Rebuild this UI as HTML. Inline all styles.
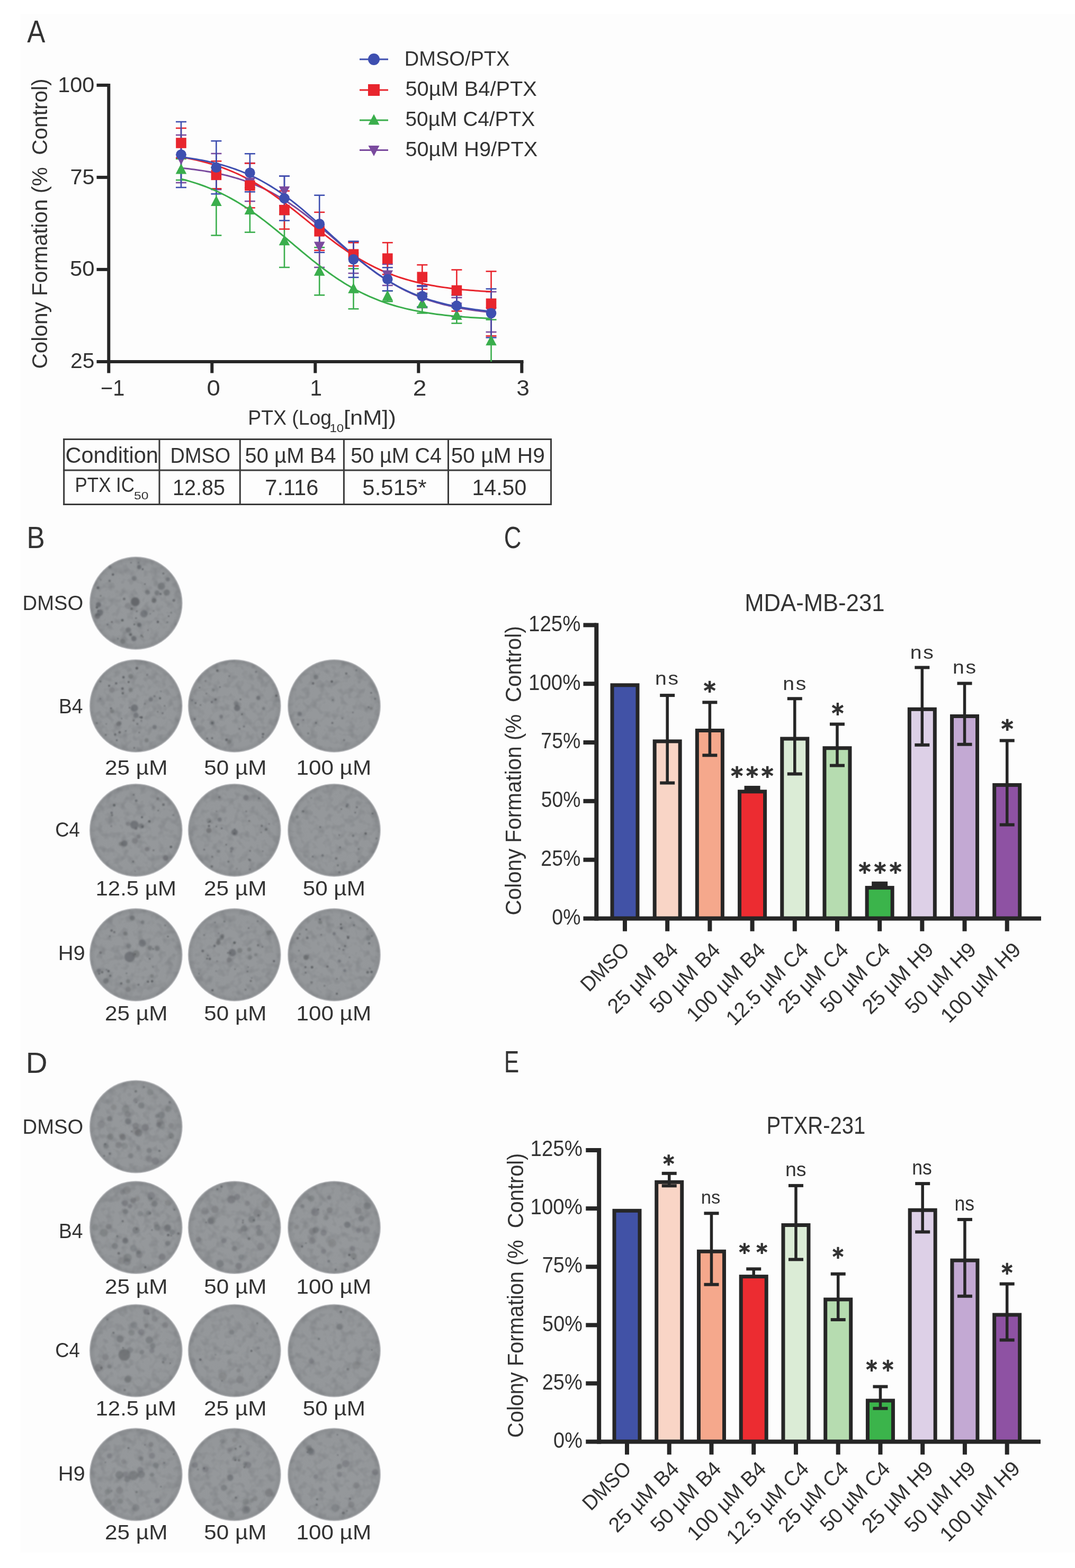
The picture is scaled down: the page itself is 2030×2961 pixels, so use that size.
<!DOCTYPE html>
<html><head><meta charset="utf-8"><title>Colony formation figure</title>
<style>
html,body{margin:0;padding:0;background:#fff;}
svg{display:block;}
text{font-family:'Liberation Sans', Arial, sans-serif;white-space:pre;}
</style></head>
<body>
<svg width="2030" height="2961" viewBox="0 0 2030 2961">
<defs>
<filter id="blur1" x="-50%" y="-50%" width="200%" height="200%"><feGaussianBlur stdDeviation="0.9"/></filter>
<filter id="blur2" x="-50%" y="-50%" width="200%" height="200%"><feGaussianBlur stdDeviation="1.8"/></filter>
<filter id="mottle" x="0" y="0" width="100%" height="100%" color-interpolation-filters="sRGB">
<feTurbulence type="fractalNoise" baseFrequency="0.07" numOctaves="2" seed="7" result="n"/>
<feColorMatrix in="n" type="matrix" values="0 0 0 0 0.33  0 0 0 0 0.34  0 0 0 0 0.36  0.6 0 0 0 -0.28" result="m"/>
<feComposite in="m" in2="SourceGraphic" operator="in"/>
</filter>
</defs>
<rect x="0" y="0" width="2030" height="2961" fill="#ffffff"/>
<rect x="39" y="26" width="1991" height="2906" fill="#fdfdfd"/>
<text transform="translate(51.37,80.00) scale(0.8580,1)" font-size="59.64" fill="#333333">A</text>
<text transform="translate(50.57,1034.60) scale(0.8991,1)" font-size="57.02" fill="#333333">B</text>
<text transform="translate(951.63,1034.60) scale(0.7954,1)" font-size="57.02" fill="#333333">C</text>
<text transform="translate(48.84,2026.00) scale(1.0096,1)" font-size="56.00" fill="#333333">D</text>
<text transform="translate(951.92,2024.90) scale(0.7273,1)" font-size="58.04" fill="#333333">E</text>
<line x1="205.30" y1="158.00" x2="205.30" y2="704.50" stroke="#262626" stroke-width="6" stroke-linecap="butt"/>
<line x1="182.50" y1="682.90" x2="988.50" y2="682.90" stroke="#262626" stroke-width="6" stroke-linecap="butt"/>
<line x1="182.50" y1="160.90" x2="205.30" y2="160.90" stroke="#262626" stroke-width="6" stroke-linecap="butt"/>
<line x1="182.50" y1="334.90" x2="205.30" y2="334.90" stroke="#262626" stroke-width="6" stroke-linecap="butt"/>
<line x1="182.50" y1="508.90" x2="205.30" y2="508.90" stroke="#262626" stroke-width="6" stroke-linecap="butt"/>
<line x1="400.30" y1="682.90" x2="400.30" y2="704.50" stroke="#262626" stroke-width="6" stroke-linecap="butt"/>
<line x1="595.30" y1="682.90" x2="595.30" y2="704.50" stroke="#262626" stroke-width="6" stroke-linecap="butt"/>
<line x1="790.30" y1="682.90" x2="790.30" y2="704.50" stroke="#262626" stroke-width="6" stroke-linecap="butt"/>
<line x1="985.30" y1="682.90" x2="985.30" y2="704.50" stroke="#262626" stroke-width="6" stroke-linecap="butt"/>
<text transform="translate(109.29,173.70) scale(1.0061,1)" font-size="41.16" fill="#333333">100</text>
<text transform="translate(132.43,347.60) scale(1.0075,1)" font-size="41.16" fill="#333333">75</text>
<text transform="translate(131.92,521.30) scale(1.0188,1)" font-size="41.16" fill="#333333">50</text>
<text transform="translate(133.05,695.30) scale(0.9955,1)" font-size="41.16" fill="#333333">25</text>
<text transform="translate(190.01,747.20) scale(0.9569,1)" font-size="41.60" fill="#333333">−1</text>
<text transform="translate(390.57,747.20) scale(1.0975,1)" font-size="41.60" fill="#333333">0</text>
<text transform="translate(585.47,747.20) scale(0.9727,1)" font-size="41.60" fill="#333333">1</text>
<text transform="translate(779.69,747.20) scale(1.1095,1)" font-size="41.60" fill="#333333">2</text>
<text transform="translate(975.34,747.20) scale(1.0628,1)" font-size="41.60" fill="#333333">3</text>
<text transform="translate(468.21,801.80) scale(0.9630,1)" font-size="38.84" fill="#333333">PTX (Log</text>
<text transform="translate(622.39,816.10) scale(1.1074,1)" font-size="21.82" fill="#333333">10</text>
<text transform="translate(648.96,801.80) scale(1.1187,1)" font-size="38.84" fill="#333333">[nM])</text>
<text transform="translate(89.00,696.53) rotate(-90) scale(0.9793,1)" font-size="41.45" fill="#333333">Colony Formation (%  Control)</text>
<line x1="679.00" y1="112.00" x2="733.00" y2="112.00" stroke="#3e4fb0" stroke-width="3" stroke-linecap="butt"/>
<circle cx="706.00" cy="112.00" r="11.00" fill="#3e4fb0"/>
<text transform="translate(763.86,124.00) scale(0.9903,1)" font-size="38.40" fill="#333333">DMSO/PTX</text>
<line x1="679.00" y1="170.00" x2="733.00" y2="170.00" stroke="#e8252d" stroke-width="3" stroke-linecap="butt"/>
<rect x="695.00" y="159.00" width="22.00" height="22.00" fill="#e8252d"/>
<text transform="translate(765.41,180.50) scale(1.0362,1)" font-size="38.40" fill="#333333">50µM B4/PTX</text>
<line x1="679.00" y1="227.00" x2="733.00" y2="227.00" stroke="#3aae4c" stroke-width="3" stroke-linecap="butt"/>
<polygon points="706.00,215.50 716.50,235.62 695.50,235.62" fill="#3aae4c"/>
<text transform="translate(765.45,238.30) scale(1.0116,1)" font-size="38.40" fill="#333333">50µM C4/PTX</text>
<line x1="679.00" y1="283.50" x2="733.00" y2="283.50" stroke="#7a4a9e" stroke-width="3" stroke-linecap="butt"/>
<polygon points="706.00,295.00 716.50,274.88 695.50,274.88" fill="#7a4a9e"/>
<text transform="translate(765.41,294.90) scale(1.0325,1)" font-size="38.40" fill="#333333">50µM H9/PTX</text>
<line x1="342.00" y1="300.00" x2="342.00" y2="340.00" stroke="#3aae4c" stroke-width="2.6" stroke-linecap="butt"/>
<line x1="332.00" y1="300.00" x2="352.00" y2="300.00" stroke="#3aae4c" stroke-width="2.6" stroke-linecap="butt"/>
<line x1="332.00" y1="340.00" x2="352.00" y2="340.00" stroke="#3aae4c" stroke-width="2.6" stroke-linecap="butt"/>
<line x1="408.40" y1="316.50" x2="408.40" y2="444.50" stroke="#3aae4c" stroke-width="2.6" stroke-linecap="butt"/>
<line x1="398.40" y1="316.50" x2="418.40" y2="316.50" stroke="#3aae4c" stroke-width="2.6" stroke-linecap="butt"/>
<line x1="398.40" y1="444.50" x2="418.40" y2="444.50" stroke="#3aae4c" stroke-width="2.6" stroke-linecap="butt"/>
<line x1="471.90" y1="354.60" x2="471.90" y2="438.60" stroke="#3aae4c" stroke-width="2.6" stroke-linecap="butt"/>
<line x1="461.90" y1="354.60" x2="481.90" y2="354.60" stroke="#3aae4c" stroke-width="2.6" stroke-linecap="butt"/>
<line x1="461.90" y1="438.60" x2="481.90" y2="438.60" stroke="#3aae4c" stroke-width="2.6" stroke-linecap="butt"/>
<line x1="537.00" y1="404.90" x2="537.00" y2="504.90" stroke="#3aae4c" stroke-width="2.6" stroke-linecap="butt"/>
<line x1="527.00" y1="404.90" x2="547.00" y2="404.90" stroke="#3aae4c" stroke-width="2.6" stroke-linecap="butt"/>
<line x1="527.00" y1="504.90" x2="547.00" y2="504.90" stroke="#3aae4c" stroke-width="2.6" stroke-linecap="butt"/>
<line x1="603.20" y1="467.30" x2="603.20" y2="557.30" stroke="#3aae4c" stroke-width="2.6" stroke-linecap="butt"/>
<line x1="593.20" y1="467.30" x2="613.20" y2="467.30" stroke="#3aae4c" stroke-width="2.6" stroke-linecap="butt"/>
<line x1="593.20" y1="557.30" x2="613.20" y2="557.30" stroke="#3aae4c" stroke-width="2.6" stroke-linecap="butt"/>
<line x1="667.50" y1="507.30" x2="667.50" y2="583.30" stroke="#3aae4c" stroke-width="2.6" stroke-linecap="butt"/>
<line x1="657.50" y1="507.30" x2="677.50" y2="507.30" stroke="#3aae4c" stroke-width="2.6" stroke-linecap="butt"/>
<line x1="657.50" y1="583.30" x2="677.50" y2="583.30" stroke="#3aae4c" stroke-width="2.6" stroke-linecap="butt"/>
<line x1="731.80" y1="549.30" x2="731.80" y2="569.30" stroke="#3aae4c" stroke-width="2.6" stroke-linecap="butt"/>
<line x1="721.80" y1="549.30" x2="741.80" y2="549.30" stroke="#3aae4c" stroke-width="2.6" stroke-linecap="butt"/>
<line x1="721.80" y1="569.30" x2="741.80" y2="569.30" stroke="#3aae4c" stroke-width="2.6" stroke-linecap="butt"/>
<line x1="797.30" y1="555.40" x2="797.30" y2="591.40" stroke="#3aae4c" stroke-width="2.6" stroke-linecap="butt"/>
<line x1="787.30" y1="555.40" x2="807.30" y2="555.40" stroke="#3aae4c" stroke-width="2.6" stroke-linecap="butt"/>
<line x1="787.30" y1="591.40" x2="807.30" y2="591.40" stroke="#3aae4c" stroke-width="2.6" stroke-linecap="butt"/>
<line x1="862.40" y1="580.50" x2="862.40" y2="610.50" stroke="#3aae4c" stroke-width="2.6" stroke-linecap="butt"/>
<line x1="852.40" y1="580.50" x2="872.40" y2="580.50" stroke="#3aae4c" stroke-width="2.6" stroke-linecap="butt"/>
<line x1="852.40" y1="610.50" x2="872.40" y2="610.50" stroke="#3aae4c" stroke-width="2.6" stroke-linecap="butt"/>
<line x1="927.50" y1="603.70" x2="927.50" y2="682.90" stroke="#3aae4c" stroke-width="2.6" stroke-linecap="butt"/>
<line x1="917.50" y1="603.70" x2="937.50" y2="603.70" stroke="#3aae4c" stroke-width="2.6" stroke-linecap="butt"/>
<line x1="342.00" y1="255.00" x2="342.00" y2="345.00" stroke="#7a4a9e" stroke-width="2.6" stroke-linecap="butt"/>
<line x1="332.00" y1="255.00" x2="352.00" y2="255.00" stroke="#7a4a9e" stroke-width="2.6" stroke-linecap="butt"/>
<line x1="332.00" y1="345.00" x2="352.00" y2="345.00" stroke="#7a4a9e" stroke-width="2.6" stroke-linecap="butt"/>
<line x1="408.40" y1="290.00" x2="408.40" y2="358.00" stroke="#7a4a9e" stroke-width="2.6" stroke-linecap="butt"/>
<line x1="398.40" y1="290.00" x2="418.40" y2="290.00" stroke="#7a4a9e" stroke-width="2.6" stroke-linecap="butt"/>
<line x1="398.40" y1="358.00" x2="418.40" y2="358.00" stroke="#7a4a9e" stroke-width="2.6" stroke-linecap="butt"/>
<line x1="471.90" y1="308.00" x2="471.90" y2="380.00" stroke="#7a4a9e" stroke-width="2.6" stroke-linecap="butt"/>
<line x1="461.90" y1="308.00" x2="481.90" y2="308.00" stroke="#7a4a9e" stroke-width="2.6" stroke-linecap="butt"/>
<line x1="461.90" y1="380.00" x2="481.90" y2="380.00" stroke="#7a4a9e" stroke-width="2.6" stroke-linecap="butt"/>
<line x1="537.00" y1="332.40" x2="537.00" y2="388.40" stroke="#7a4a9e" stroke-width="2.6" stroke-linecap="butt"/>
<line x1="527.00" y1="332.40" x2="547.00" y2="332.40" stroke="#7a4a9e" stroke-width="2.6" stroke-linecap="butt"/>
<line x1="527.00" y1="388.40" x2="547.00" y2="388.40" stroke="#7a4a9e" stroke-width="2.6" stroke-linecap="butt"/>
<line x1="603.20" y1="424.90" x2="603.20" y2="504.90" stroke="#7a4a9e" stroke-width="2.6" stroke-linecap="butt"/>
<line x1="593.20" y1="424.90" x2="613.20" y2="424.90" stroke="#7a4a9e" stroke-width="2.6" stroke-linecap="butt"/>
<line x1="593.20" y1="504.90" x2="613.20" y2="504.90" stroke="#7a4a9e" stroke-width="2.6" stroke-linecap="butt"/>
<line x1="667.50" y1="456.00" x2="667.50" y2="516.00" stroke="#7a4a9e" stroke-width="2.6" stroke-linecap="butt"/>
<line x1="657.50" y1="456.00" x2="677.50" y2="456.00" stroke="#7a4a9e" stroke-width="2.6" stroke-linecap="butt"/>
<line x1="657.50" y1="516.00" x2="677.50" y2="516.00" stroke="#7a4a9e" stroke-width="2.6" stroke-linecap="butt"/>
<line x1="731.80" y1="499.00" x2="731.80" y2="539.00" stroke="#7a4a9e" stroke-width="2.6" stroke-linecap="butt"/>
<line x1="721.80" y1="499.00" x2="741.80" y2="499.00" stroke="#7a4a9e" stroke-width="2.6" stroke-linecap="butt"/>
<line x1="721.80" y1="539.00" x2="741.80" y2="539.00" stroke="#7a4a9e" stroke-width="2.6" stroke-linecap="butt"/>
<line x1="797.30" y1="541.00" x2="797.30" y2="581.00" stroke="#7a4a9e" stroke-width="2.6" stroke-linecap="butt"/>
<line x1="787.30" y1="541.00" x2="807.30" y2="541.00" stroke="#7a4a9e" stroke-width="2.6" stroke-linecap="butt"/>
<line x1="787.30" y1="581.00" x2="807.30" y2="581.00" stroke="#7a4a9e" stroke-width="2.6" stroke-linecap="butt"/>
<line x1="862.40" y1="562.00" x2="862.40" y2="598.00" stroke="#7a4a9e" stroke-width="2.6" stroke-linecap="butt"/>
<line x1="852.40" y1="562.00" x2="872.40" y2="562.00" stroke="#7a4a9e" stroke-width="2.6" stroke-linecap="butt"/>
<line x1="852.40" y1="598.00" x2="872.40" y2="598.00" stroke="#7a4a9e" stroke-width="2.6" stroke-linecap="butt"/>
<line x1="927.50" y1="551.00" x2="927.50" y2="627.00" stroke="#7a4a9e" stroke-width="2.6" stroke-linecap="butt"/>
<line x1="917.50" y1="551.00" x2="937.50" y2="551.00" stroke="#7a4a9e" stroke-width="2.6" stroke-linecap="butt"/>
<line x1="917.50" y1="627.00" x2="937.50" y2="627.00" stroke="#7a4a9e" stroke-width="2.6" stroke-linecap="butt"/>
<line x1="342.00" y1="242.00" x2="342.00" y2="298.00" stroke="#e8252d" stroke-width="2.6" stroke-linecap="butt"/>
<line x1="332.00" y1="242.00" x2="352.00" y2="242.00" stroke="#e8252d" stroke-width="2.6" stroke-linecap="butt"/>
<line x1="332.00" y1="298.00" x2="352.00" y2="298.00" stroke="#e8252d" stroke-width="2.6" stroke-linecap="butt"/>
<line x1="408.40" y1="304.30" x2="408.40" y2="356.30" stroke="#e8252d" stroke-width="2.6" stroke-linecap="butt"/>
<line x1="398.40" y1="304.30" x2="418.40" y2="304.30" stroke="#e8252d" stroke-width="2.6" stroke-linecap="butt"/>
<line x1="398.40" y1="356.30" x2="418.40" y2="356.30" stroke="#e8252d" stroke-width="2.6" stroke-linecap="butt"/>
<line x1="471.90" y1="308.40" x2="471.90" y2="392.40" stroke="#e8252d" stroke-width="2.6" stroke-linecap="butt"/>
<line x1="461.90" y1="308.40" x2="481.90" y2="308.40" stroke="#e8252d" stroke-width="2.6" stroke-linecap="butt"/>
<line x1="461.90" y1="392.40" x2="481.90" y2="392.40" stroke="#e8252d" stroke-width="2.6" stroke-linecap="butt"/>
<line x1="537.00" y1="360.60" x2="537.00" y2="432.60" stroke="#e8252d" stroke-width="2.6" stroke-linecap="butt"/>
<line x1="527.00" y1="360.60" x2="547.00" y2="360.60" stroke="#e8252d" stroke-width="2.6" stroke-linecap="butt"/>
<line x1="527.00" y1="432.60" x2="547.00" y2="432.60" stroke="#e8252d" stroke-width="2.6" stroke-linecap="butt"/>
<line x1="603.20" y1="400.80" x2="603.20" y2="472.80" stroke="#e8252d" stroke-width="2.6" stroke-linecap="butt"/>
<line x1="593.20" y1="400.80" x2="613.20" y2="400.80" stroke="#e8252d" stroke-width="2.6" stroke-linecap="butt"/>
<line x1="593.20" y1="472.80" x2="613.20" y2="472.80" stroke="#e8252d" stroke-width="2.6" stroke-linecap="butt"/>
<line x1="667.50" y1="458.20" x2="667.50" y2="502.20" stroke="#e8252d" stroke-width="2.6" stroke-linecap="butt"/>
<line x1="657.50" y1="458.20" x2="677.50" y2="458.20" stroke="#e8252d" stroke-width="2.6" stroke-linecap="butt"/>
<line x1="657.50" y1="502.20" x2="677.50" y2="502.20" stroke="#e8252d" stroke-width="2.6" stroke-linecap="butt"/>
<line x1="731.80" y1="458.20" x2="731.80" y2="518.20" stroke="#e8252d" stroke-width="2.6" stroke-linecap="butt"/>
<line x1="721.80" y1="458.20" x2="741.80" y2="458.20" stroke="#e8252d" stroke-width="2.6" stroke-linecap="butt"/>
<line x1="721.80" y1="518.20" x2="741.80" y2="518.20" stroke="#e8252d" stroke-width="2.6" stroke-linecap="butt"/>
<line x1="797.30" y1="500.20" x2="797.30" y2="546.20" stroke="#e8252d" stroke-width="2.6" stroke-linecap="butt"/>
<line x1="787.30" y1="500.20" x2="807.30" y2="500.20" stroke="#e8252d" stroke-width="2.6" stroke-linecap="butt"/>
<line x1="787.30" y1="546.20" x2="807.30" y2="546.20" stroke="#e8252d" stroke-width="2.6" stroke-linecap="butt"/>
<line x1="862.40" y1="509.50" x2="862.40" y2="587.50" stroke="#e8252d" stroke-width="2.6" stroke-linecap="butt"/>
<line x1="852.40" y1="509.50" x2="872.40" y2="509.50" stroke="#e8252d" stroke-width="2.6" stroke-linecap="butt"/>
<line x1="852.40" y1="587.50" x2="872.40" y2="587.50" stroke="#e8252d" stroke-width="2.6" stroke-linecap="butt"/>
<line x1="927.50" y1="512.40" x2="927.50" y2="634.40" stroke="#e8252d" stroke-width="2.6" stroke-linecap="butt"/>
<line x1="917.50" y1="512.40" x2="937.50" y2="512.40" stroke="#e8252d" stroke-width="2.6" stroke-linecap="butt"/>
<line x1="917.50" y1="634.40" x2="937.50" y2="634.40" stroke="#e8252d" stroke-width="2.6" stroke-linecap="butt"/>
<line x1="342.00" y1="230.00" x2="342.00" y2="354.00" stroke="#3e4fb0" stroke-width="2.6" stroke-linecap="butt"/>
<line x1="332.00" y1="230.00" x2="352.00" y2="230.00" stroke="#3e4fb0" stroke-width="2.6" stroke-linecap="butt"/>
<line x1="332.00" y1="354.00" x2="352.00" y2="354.00" stroke="#3e4fb0" stroke-width="2.6" stroke-linecap="butt"/>
<line x1="408.40" y1="266.20" x2="408.40" y2="366.20" stroke="#3e4fb0" stroke-width="2.6" stroke-linecap="butt"/>
<line x1="398.40" y1="266.20" x2="418.40" y2="266.20" stroke="#3e4fb0" stroke-width="2.6" stroke-linecap="butt"/>
<line x1="398.40" y1="366.20" x2="418.40" y2="366.20" stroke="#3e4fb0" stroke-width="2.6" stroke-linecap="butt"/>
<line x1="471.90" y1="290.30" x2="471.90" y2="362.30" stroke="#3e4fb0" stroke-width="2.6" stroke-linecap="butt"/>
<line x1="461.90" y1="290.30" x2="481.90" y2="290.30" stroke="#3e4fb0" stroke-width="2.6" stroke-linecap="butt"/>
<line x1="461.90" y1="362.30" x2="481.90" y2="362.30" stroke="#3e4fb0" stroke-width="2.6" stroke-linecap="butt"/>
<line x1="537.00" y1="332.50" x2="537.00" y2="416.50" stroke="#3e4fb0" stroke-width="2.6" stroke-linecap="butt"/>
<line x1="527.00" y1="332.50" x2="547.00" y2="332.50" stroke="#3e4fb0" stroke-width="2.6" stroke-linecap="butt"/>
<line x1="527.00" y1="416.50" x2="547.00" y2="416.50" stroke="#3e4fb0" stroke-width="2.6" stroke-linecap="butt"/>
<line x1="603.20" y1="368.70" x2="603.20" y2="476.70" stroke="#3e4fb0" stroke-width="2.6" stroke-linecap="butt"/>
<line x1="593.20" y1="368.70" x2="613.20" y2="368.70" stroke="#3e4fb0" stroke-width="2.6" stroke-linecap="butt"/>
<line x1="593.20" y1="476.70" x2="613.20" y2="476.70" stroke="#3e4fb0" stroke-width="2.6" stroke-linecap="butt"/>
<line x1="667.50" y1="455.80" x2="667.50" y2="523.80" stroke="#3e4fb0" stroke-width="2.6" stroke-linecap="butt"/>
<line x1="657.50" y1="455.80" x2="677.50" y2="455.80" stroke="#3e4fb0" stroke-width="2.6" stroke-linecap="butt"/>
<line x1="657.50" y1="523.80" x2="677.50" y2="523.80" stroke="#3e4fb0" stroke-width="2.6" stroke-linecap="butt"/>
<line x1="731.80" y1="505.20" x2="731.80" y2="549.20" stroke="#3e4fb0" stroke-width="2.6" stroke-linecap="butt"/>
<line x1="721.80" y1="505.20" x2="741.80" y2="505.20" stroke="#3e4fb0" stroke-width="2.6" stroke-linecap="butt"/>
<line x1="721.80" y1="549.20" x2="741.80" y2="549.20" stroke="#3e4fb0" stroke-width="2.6" stroke-linecap="butt"/>
<line x1="797.30" y1="539.30" x2="797.30" y2="579.30" stroke="#3e4fb0" stroke-width="2.6" stroke-linecap="butt"/>
<line x1="787.30" y1="539.30" x2="807.30" y2="539.30" stroke="#3e4fb0" stroke-width="2.6" stroke-linecap="butt"/>
<line x1="787.30" y1="579.30" x2="807.30" y2="579.30" stroke="#3e4fb0" stroke-width="2.6" stroke-linecap="butt"/>
<line x1="862.40" y1="557.40" x2="862.40" y2="597.40" stroke="#3e4fb0" stroke-width="2.6" stroke-linecap="butt"/>
<line x1="852.40" y1="557.40" x2="872.40" y2="557.40" stroke="#3e4fb0" stroke-width="2.6" stroke-linecap="butt"/>
<line x1="852.40" y1="597.40" x2="872.40" y2="597.40" stroke="#3e4fb0" stroke-width="2.6" stroke-linecap="butt"/>
<line x1="927.50" y1="545.50" x2="927.50" y2="637.50" stroke="#3e4fb0" stroke-width="2.6" stroke-linecap="butt"/>
<line x1="917.50" y1="545.50" x2="937.50" y2="545.50" stroke="#3e4fb0" stroke-width="2.6" stroke-linecap="butt"/>
<line x1="917.50" y1="637.50" x2="937.50" y2="637.50" stroke="#3e4fb0" stroke-width="2.6" stroke-linecap="butt"/>
<polyline points="342.00,337.97 346.88,339.22 351.76,340.52 356.64,341.89 361.52,343.32 366.40,344.82 371.27,346.39 376.15,348.03 381.03,349.74 385.91,351.53 390.79,353.39 395.67,355.33 400.55,357.36 405.43,359.46 410.31,361.65 415.19,363.93 420.07,366.29 424.95,368.74 429.82,371.28 434.70,373.90 439.58,376.62 444.46,379.42 449.34,382.32 454.22,385.30 459.10,388.38 463.98,391.54 468.86,394.78 473.74,398.11 478.62,401.51 483.50,405.00 488.38,408.56 493.25,412.20 498.13,415.90 503.01,419.67 507.89,423.49 512.77,427.37 517.65,431.30 522.53,435.27 527.41,439.29 532.29,443.33 537.17,447.40 542.05,451.49 546.92,455.59 551.80,459.70 556.68,463.81 561.56,467.92 566.44,472.01 571.32,476.08 576.20,480.13 581.08,484.14 585.96,488.12 590.84,492.05 595.72,495.93 600.60,499.76 605.48,503.53 610.35,507.24 615.23,510.88 620.11,514.45 624.99,517.94 629.87,521.36 634.75,524.69 639.63,527.94 644.51,531.11 649.39,534.19 654.27,537.18 659.15,540.08 664.02,542.89 668.90,545.62 673.78,548.25 678.66,550.80 683.54,553.25 688.42,555.62 693.30,557.90 698.18,560.10 703.06,562.21 707.94,564.24 712.82,566.19 717.70,568.06 722.58,569.85 727.45,571.57 732.33,573.22 737.21,574.79 742.09,576.29 746.97,577.73 751.85,579.11 756.73,580.42 761.61,581.67 766.49,582.86 771.37,584.00 776.25,585.08 781.12,586.11 786.00,587.09 790.88,588.03 795.76,588.92 800.64,589.76 805.52,590.57 810.40,591.33 815.28,592.06 820.16,592.75 825.04,593.40 829.92,594.02 834.80,594.61 839.67,595.17 844.55,595.70 849.43,596.21 854.31,596.68 859.19,597.14 864.07,597.57 868.95,597.97 873.83,598.36 878.71,598.72 883.59,599.07 888.47,599.40 893.35,599.71 898.23,600.00 903.10,600.28 907.98,600.54 912.86,600.79 917.74,601.03 922.62,601.25 927.50,601.46" fill="none" stroke="#3aae4c" stroke-width="3"/>
<polyline points="342.00,317.30 346.88,317.79 351.76,318.31 356.64,318.86 361.52,319.44 366.40,320.06 371.27,320.70 376.15,321.39 381.03,322.11 385.91,322.87 390.79,323.67 395.67,324.52 400.55,325.41 405.43,326.35 410.31,327.33 415.19,328.37 420.07,329.47 424.95,330.62 429.82,331.82 434.70,333.09 439.58,334.43 444.46,335.82 449.34,337.29 454.22,338.83 459.10,340.44 463.98,342.12 468.86,343.89 473.74,345.73 478.62,347.65 483.50,349.66 488.38,351.76 493.25,353.94 498.13,356.22 503.01,358.58 507.89,361.04 512.77,363.59 517.65,366.24 522.53,368.98 527.41,371.81 532.29,374.75 537.17,377.77 542.05,380.89 546.92,384.11 551.80,387.41 556.68,390.81 561.56,394.29 566.44,397.85 571.32,401.50 576.20,405.23 581.08,409.02 585.96,412.89 590.84,416.82 595.72,420.81 600.60,424.86 605.48,428.95 610.35,433.08 615.23,437.24 620.11,441.44 624.99,445.65 629.87,449.88 634.75,454.11 639.63,458.34 644.51,462.56 649.39,466.77 654.27,470.96 659.15,475.11 664.02,479.23 668.90,483.31 673.78,487.33 678.66,491.31 683.54,495.22 688.42,499.07 693.30,502.84 698.18,506.54 703.06,510.17 707.94,513.71 712.82,517.16 717.70,520.53 722.58,523.81 727.45,526.99 732.33,530.08 737.21,533.08 742.09,535.98 746.97,538.79 751.85,541.50 756.73,544.12 761.61,546.64 766.49,549.07 771.37,551.41 776.25,553.65 781.12,555.81 786.00,557.88 790.88,559.86 795.76,561.76 800.64,563.58 805.52,565.32 810.40,566.98 815.28,568.57 820.16,570.08 825.04,571.53 829.92,572.91 834.80,574.22 839.67,575.47 844.55,576.66 849.43,577.79 854.31,578.87 859.19,579.89 864.07,580.86 868.95,581.79 873.83,582.66 878.71,583.49 883.59,584.28 888.47,585.03 893.35,585.74 898.23,586.41 903.10,587.05 907.98,587.66 912.86,588.23 917.74,588.77 922.62,589.28 927.50,589.77" fill="none" stroke="#7a4a9e" stroke-width="3"/>
<polyline points="342.00,296.58 346.88,297.43 351.76,298.32 356.64,299.26 361.52,300.25 366.40,301.29 371.27,302.38 376.15,303.53 381.03,304.73 385.91,305.99 390.79,307.32 395.67,308.70 400.55,310.15 405.43,311.67 410.31,313.26 415.19,314.92 420.07,316.66 424.95,318.47 429.82,320.35 434.70,322.32 439.58,324.37 444.46,326.50 449.34,328.71 454.22,331.01 459.10,333.39 463.98,335.87 468.86,338.42 473.74,341.07 478.62,343.80 483.50,346.62 488.38,349.53 493.25,352.52 498.13,355.60 503.01,358.76 507.89,361.99 512.77,365.31 517.65,368.70 522.53,372.16 527.41,375.69 532.29,379.28 537.17,382.94 542.05,386.65 546.92,390.40 551.80,394.20 556.68,398.05 561.56,401.92 566.44,405.82 571.32,409.74 576.20,413.67 581.08,417.62 585.96,421.56 590.84,425.50 595.72,429.43 600.60,433.34 605.48,437.22 610.35,441.07 615.23,444.89 620.11,448.67 624.99,452.39 629.87,456.07 634.75,459.68 639.63,463.24 644.51,466.73 649.39,470.14 654.27,473.49 659.15,476.76 664.02,479.94 668.90,483.05 673.78,486.07 678.66,489.01 683.54,491.87 688.42,494.63 693.30,497.31 698.18,499.90 703.06,502.41 707.94,504.82 712.82,507.16 717.70,509.40 722.58,511.56 727.45,513.64 732.33,515.64 737.21,517.56 742.09,519.39 746.97,521.16 751.85,522.84 756.73,524.46 761.61,526.01 766.49,527.48 771.37,528.89 776.25,530.24 781.12,531.52 786.00,532.75 790.88,533.92 795.76,535.03 800.64,536.09 805.52,537.10 810.40,538.05 815.28,538.97 820.16,539.83 825.04,540.66 829.92,541.44 834.80,542.18 839.67,542.89 844.55,543.56 849.43,544.19 854.31,544.79 859.19,545.37 864.07,545.91 868.95,546.42 873.83,546.91 878.71,547.37 883.59,547.80 888.47,548.22 893.35,548.61 898.23,548.98 903.10,549.33 907.98,549.66 912.86,549.98 917.74,550.27 922.62,550.56 927.50,550.82" fill="none" stroke="#e8252d" stroke-width="3"/>
<polyline points="342.00,296.50 346.88,297.13 351.76,297.79 356.64,298.49 361.52,299.22 366.40,300.00 371.27,300.82 376.15,301.68 381.03,302.59 385.91,303.54 390.79,304.54 395.67,305.60 400.55,306.71 405.43,307.88 410.31,309.10 415.19,310.39 420.07,311.74 424.95,313.16 429.82,314.64 434.70,316.20 439.58,317.83 444.46,319.54 449.34,321.32 454.22,323.19 459.10,325.14 463.98,327.17 468.86,329.29 473.74,331.50 478.62,333.81 483.50,336.20 488.38,338.69 493.25,341.28 498.13,343.96 503.01,346.75 507.89,349.63 512.77,352.61 517.65,355.68 522.53,358.86 527.41,362.14 532.29,365.51 537.17,368.98 542.05,372.54 546.92,376.19 551.80,379.93 556.68,383.76 561.56,387.67 566.44,391.65 571.32,395.71 576.20,399.84 581.08,404.03 585.96,408.28 590.84,412.58 595.72,416.92 600.60,421.31 605.48,425.72 610.35,430.16 615.23,434.62 620.11,439.09 624.99,443.56 629.87,448.03 634.75,452.48 639.63,456.92 644.51,461.33 649.39,465.70 654.27,470.04 659.15,474.33 664.02,478.56 668.90,482.74 673.78,486.85 678.66,490.90 683.54,494.87 688.42,498.76 693.30,502.56 698.18,506.28 703.06,509.92 707.94,513.46 712.82,516.90 717.70,520.25 722.58,523.51 727.45,526.66 732.33,529.72 737.21,532.68 742.09,535.53 746.97,538.29 751.85,540.96 756.73,543.52 761.61,545.99 766.49,548.36 771.37,550.65 776.25,552.84 781.12,554.94 786.00,556.95 790.88,558.88 795.76,560.73 800.64,562.50 805.52,564.19 810.40,565.80 815.28,567.34 820.16,568.81 825.04,570.21 829.92,571.55 834.80,572.82 839.67,574.03 844.55,575.19 849.43,576.29 854.31,577.33 859.19,578.32 864.07,579.27 868.95,580.16 873.83,581.01 878.71,581.82 883.59,582.59 888.47,583.31 893.35,584.00 898.23,584.66 903.10,585.28 907.98,585.87 912.86,586.42 917.74,586.95 922.62,587.45 927.50,587.93" fill="none" stroke="#3e4fb0" stroke-width="3"/>
<polygon points="342.00,308.73 352.29,328.45 331.71,328.45" fill="#3aae4c"/>
<polygon points="408.40,369.23 418.69,388.95 398.11,388.95" fill="#3aae4c"/>
<polygon points="471.90,385.33 482.19,405.05 461.61,405.05" fill="#3aae4c"/>
<polygon points="537.00,443.63 547.29,463.35 526.71,463.35" fill="#3aae4c"/>
<polygon points="603.20,501.03 613.49,520.75 592.91,520.75" fill="#3aae4c"/>
<polygon points="667.50,534.03 677.79,553.75 657.21,553.75" fill="#3aae4c"/>
<polygon points="731.80,548.03 742.09,567.75 721.51,567.75" fill="#3aae4c"/>
<polygon points="797.30,562.13 807.59,581.85 787.01,581.85" fill="#3aae4c"/>
<polygon points="862.40,584.23 872.69,603.95 852.11,603.95" fill="#3aae4c"/>
<polygon points="927.50,632.43 937.79,652.15 917.21,652.15" fill="#3aae4c"/>
<polygon points="342.00,311.27 352.29,291.55 331.71,291.55" fill="#7a4a9e"/>
<polygon points="408.40,335.27 418.69,315.55 398.11,315.55" fill="#7a4a9e"/>
<polygon points="471.90,355.27 482.19,335.55 461.61,335.55" fill="#7a4a9e"/>
<polygon points="537.00,371.67 547.29,351.95 526.71,351.95" fill="#7a4a9e"/>
<polygon points="603.20,476.17 613.49,456.45 592.91,456.45" fill="#7a4a9e"/>
<polygon points="667.50,497.27 677.79,477.55 657.21,477.55" fill="#7a4a9e"/>
<polygon points="731.80,530.27 742.09,510.55 721.51,510.55" fill="#7a4a9e"/>
<polygon points="797.30,572.27 807.59,552.55 787.01,552.55" fill="#7a4a9e"/>
<polygon points="862.40,591.27 872.69,571.55 852.11,571.55" fill="#7a4a9e"/>
<polygon points="927.50,600.27 937.79,580.55 917.21,580.55" fill="#7a4a9e"/>
<rect x="332.20" y="260.20" width="19.60" height="19.60" fill="#e8252d"/>
<rect x="398.60" y="320.50" width="19.60" height="19.60" fill="#e8252d"/>
<rect x="462.10" y="340.60" width="19.60" height="19.60" fill="#e8252d"/>
<rect x="527.20" y="386.80" width="19.60" height="19.60" fill="#e8252d"/>
<rect x="593.40" y="427.00" width="19.60" height="19.60" fill="#e8252d"/>
<rect x="657.70" y="470.40" width="19.60" height="19.60" fill="#e8252d"/>
<rect x="722.00" y="478.40" width="19.60" height="19.60" fill="#e8252d"/>
<rect x="787.50" y="513.40" width="19.60" height="19.60" fill="#e8252d"/>
<rect x="852.60" y="538.70" width="19.60" height="19.60" fill="#e8252d"/>
<rect x="917.70" y="563.60" width="19.60" height="19.60" fill="#e8252d"/>
<circle cx="342.00" cy="292.00" r="9.80" fill="#3e4fb0"/>
<circle cx="408.40" cy="316.20" r="9.80" fill="#3e4fb0"/>
<circle cx="471.90" cy="326.30" r="9.80" fill="#3e4fb0"/>
<circle cx="537.00" cy="374.50" r="9.80" fill="#3e4fb0"/>
<circle cx="603.20" cy="422.70" r="9.80" fill="#3e4fb0"/>
<circle cx="667.50" cy="489.80" r="9.80" fill="#3e4fb0"/>
<circle cx="731.80" cy="527.20" r="9.80" fill="#3e4fb0"/>
<circle cx="797.30" cy="559.30" r="9.80" fill="#3e4fb0"/>
<circle cx="862.40" cy="577.40" r="9.80" fill="#3e4fb0"/>
<circle cx="927.50" cy="591.50" r="9.80" fill="#3e4fb0"/>
<line x1="120.70" y1="828.00" x2="120.70" y2="954.00" stroke="#3a3a3a" stroke-width="3" stroke-linecap="butt"/>
<line x1="301.00" y1="828.00" x2="301.00" y2="954.00" stroke="#3a3a3a" stroke-width="3" stroke-linecap="butt"/>
<line x1="453.30" y1="828.00" x2="453.30" y2="954.00" stroke="#3a3a3a" stroke-width="3" stroke-linecap="butt"/>
<line x1="649.40" y1="828.00" x2="649.40" y2="954.00" stroke="#3a3a3a" stroke-width="3" stroke-linecap="butt"/>
<line x1="846.50" y1="828.00" x2="846.50" y2="954.00" stroke="#3a3a3a" stroke-width="3" stroke-linecap="butt"/>
<line x1="1040.50" y1="828.00" x2="1040.50" y2="954.00" stroke="#3a3a3a" stroke-width="3" stroke-linecap="butt"/>
<line x1="119.20" y1="829.50" x2="1042.00" y2="829.50" stroke="#3a3a3a" stroke-width="3" stroke-linecap="butt"/>
<line x1="119.20" y1="888.00" x2="1042.00" y2="888.00" stroke="#3a3a3a" stroke-width="3" stroke-linecap="butt"/>
<line x1="119.20" y1="952.50" x2="1042.00" y2="952.50" stroke="#3a3a3a" stroke-width="3" stroke-linecap="butt"/>
<text transform="translate(123.42,873.70) scale(0.9920,1)" font-size="41.89" fill="#333333">Condition</text>
<text transform="translate(321.58,873.70) scale(0.9469,1)" font-size="40.00" fill="#333333">DMSO</text>
<text transform="translate(462.50,873.70) scale(1.0006,1)" font-size="40.00" fill="#333333">50 µM B4</text>
<text transform="translate(662.22,873.70) scale(0.9866,1)" font-size="40.00" fill="#333333">50 µM C4</text>
<text transform="translate(851.77,873.70) scale(1.0164,1)" font-size="40.00" fill="#333333">50 µM H9</text>
<text transform="translate(141.62,928.80) scale(0.8947,1)" font-size="38.98" fill="#333333">PTX IC</text>
<text transform="translate(253.01,942.90) scale(1.2128,1)" font-size="20.36" fill="#333333">50</text>
<text transform="translate(326.03,935.00) scale(0.9393,1)" font-size="42.18" fill="#333333">12.85</text>
<text transform="translate(500.22,935.00) scale(0.9879,1)" font-size="42.18" fill="#333333">7.116</text>
<text transform="translate(684.32,935.00) scale(0.9951,1)" font-size="42.18" fill="#333333">5.515*</text>
<text transform="translate(891.52,935.00) scale(0.9731,1)" font-size="42.18" fill="#333333">14.50</text>
<defs>
<radialGradient id="dishg" cx="50%" cy="50%" r="50%">
<stop offset="0%" stop-color="#96999c"/>
<stop offset="88%" stop-color="#94979a"/>
<stop offset="97%" stop-color="#8c8f92"/>
<stop offset="100%" stop-color="#a3a5a8"/>
</radialGradient>
<radialGradient id="dishg2" cx="50%" cy="50%" r="50%">
<stop offset="0%" stop-color="#939699"/>
<stop offset="88%" stop-color="#919497"/>
<stop offset="97%" stop-color="#898c8f"/>
<stop offset="100%" stop-color="#a0a2a5"/>
</radialGradient>
</defs>
<circle cx="256.80" cy="1139.00" r="88.20" fill="#cbcccf"/>
<circle cx="256.80" cy="1139.00" r="87.00" fill="url(#dishg)"/>
<circle cx="256.80" cy="1139.00" r="86.00" fill="#000" filter="url(#mottle)"/>
<g filter="url(#blur1)"><circle cx="248.5" cy="1149.4" r="2.5" fill="#54575b" fill-opacity="0.64"/><circle cx="258.2" cy="1154.2" r="1.5" fill="#54575b" fill-opacity="0.65"/><circle cx="279.4" cy="1190.0" r="1.4" fill="#54575b" fill-opacity="0.57"/><circle cx="283.6" cy="1159.1" r="1.5" fill="#54575b" fill-opacity="0.46"/><circle cx="261.7" cy="1062.4" r="1.5" fill="#54575b" fill-opacity="0.55"/><circle cx="246.5" cy="1198.6" r="2.0" fill="#54575b" fill-opacity="0.71"/><circle cx="256.8" cy="1167.3" r="1.9" fill="#54575b" fill-opacity="0.56"/><circle cx="316.0" cy="1175.2" r="1.7" fill="#54575b" fill-opacity="0.54"/><circle cx="303.1" cy="1121.7" r="2.4" fill="#54575b" fill-opacity="0.60"/><circle cx="328.2" cy="1133.8" r="2.6" fill="#54575b" fill-opacity="0.61"/><circle cx="182.5" cy="1161.5" r="2.3" fill="#54575b" fill-opacity="0.56"/><circle cx="185.0" cy="1109.9" r="2.6" fill="#54575b" fill-opacity="0.75"/><circle cx="190.3" cy="1094.9" r="1.4" fill="#54575b" fill-opacity="0.47"/><circle cx="308.5" cy="1082.9" r="2.0" fill="#54575b" fill-opacity="0.63"/><circle cx="203.0" cy="1179.3" r="1.5" fill="#54575b" fill-opacity="0.71"/><circle cx="190.1" cy="1125.2" r="1.6" fill="#54575b" fill-opacity="0.56"/><circle cx="222.7" cy="1206.0" r="1.6" fill="#54575b" fill-opacity="0.61"/><circle cx="318.5" cy="1163.7" r="1.4" fill="#54575b" fill-opacity="0.85"/><circle cx="206.9" cy="1096.9" r="2.3" fill="#54575b" fill-opacity="0.58"/><circle cx="185.5" cy="1153.4" r="1.6" fill="#54575b" fill-opacity="0.69"/><circle cx="234.5" cy="1130.9" r="2.5" fill="#54575b" fill-opacity="0.64"/><circle cx="269.8" cy="1202.8" r="1.5" fill="#54575b" fill-opacity="0.51"/><circle cx="213.2" cy="1085.0" r="2.3" fill="#54575b" fill-opacity="0.83"/><circle cx="323.3" cy="1157.0" r="1.8" fill="#54575b" fill-opacity="0.49"/><circle cx="211.3" cy="1174.6" r="1.6" fill="#54575b" fill-opacity="0.78"/><circle cx="273.6" cy="1103.1" r="1.5" fill="#54575b" fill-opacity="0.74"/><circle cx="267.1" cy="1200.3" r="2.1" fill="#54575b" fill-opacity="0.56"/><circle cx="247.4" cy="1062.5" r="1.5" fill="#54575b" fill-opacity="0.60"/><circle cx="269.4" cy="1074.9" r="1.8" fill="#54575b" fill-opacity="0.81"/><circle cx="290.1" cy="1153.7" r="1.5" fill="#54575b" fill-opacity="0.46"/><circle cx="253.7" cy="1179.1" r="1.7" fill="#54575b" fill-opacity="0.85"/><circle cx="182.9" cy="1147.0" r="2.3" fill="#54575b" fill-opacity="0.81"/><circle cx="298.1" cy="1174.4" r="2.3" fill="#54575b" fill-opacity="0.82"/><circle cx="231.0" cy="1171.2" r="2.5" fill="#54575b" fill-opacity="0.80"/></g>
<g filter="url(#blur2)"><circle cx="242.4" cy="1189.6" r="5.2" fill="#54575b" fill-opacity="0.44"/><circle cx="278.5" cy="1118.5" r="4.5" fill="#54575b" fill-opacity="0.45"/><circle cx="183.8" cy="1163.3" r="5.5" fill="#54575b" fill-opacity="0.52"/><circle cx="296.5" cy="1119.6" r="4.8" fill="#54575b" fill-opacity="0.45"/><circle cx="246.5" cy="1197.9" r="3.2" fill="#54575b" fill-opacity="0.49"/><circle cx="253.5" cy="1092.1" r="4.7" fill="#54575b" fill-opacity="0.42"/><circle cx="255.3" cy="1136.5" r="8.5" fill="#54575b" fill-opacity="0.75"/><circle cx="185.8" cy="1142.0" r="5.0" fill="#54575b" fill-opacity="0.60"/><circle cx="188.8" cy="1157.0" r="6.0" fill="#54575b" fill-opacity="0.55"/><circle cx="290.8" cy="1134.0" r="4.5" fill="#54575b" fill-opacity="0.65"/><circle cx="271.8" cy="1159.0" r="7.0" fill="#54575b" fill-opacity="0.50"/><circle cx="252.8" cy="1206.0" r="5.0" fill="#54575b" fill-opacity="0.60"/><circle cx="262.8" cy="1180.0" r="4.0" fill="#54575b" fill-opacity="0.60"/><circle cx="304.8" cy="1107.0" r="7.0" fill="#54575b" fill-opacity="0.45"/><circle cx="314.8" cy="1119.0" r="6.0" fill="#54575b" fill-opacity="0.45"/><circle cx="262.8" cy="1071.0" r="4.0" fill="#54575b" fill-opacity="0.60"/><circle cx="207.8" cy="1071.0" r="3.0" fill="#54575b" fill-opacity="0.50"/><circle cx="231.8" cy="1211.0" r="5.0" fill="#54575b" fill-opacity="0.40"/><circle cx="316.8" cy="1094.0" r="4.0" fill="#54575b" fill-opacity="0.50"/><circle cx="241.8" cy="1144.0" r="6.0" fill="#54575b" fill-opacity="0.25"/></g>
<circle cx="256.80" cy="1333.00" r="88.20" fill="#cbcccf"/>
<circle cx="256.80" cy="1333.00" r="87.00" fill="url(#dishg)"/>
<circle cx="256.80" cy="1333.00" r="86.00" fill="#000" filter="url(#mottle)"/>
<g filter="url(#blur1)"><circle cx="252.4" cy="1360.4" r="2.2" fill="#54575b" fill-opacity="0.51"/><circle cx="217.5" cy="1387.0" r="2.2" fill="#54575b" fill-opacity="0.69"/><circle cx="266.9" cy="1361.1" r="1.5" fill="#54575b" fill-opacity="0.63"/><circle cx="182.8" cy="1365.5" r="1.7" fill="#54575b" fill-opacity="0.61"/><circle cx="258.4" cy="1261.8" r="2.6" fill="#54575b" fill-opacity="0.83"/><circle cx="189.4" cy="1319.6" r="1.5" fill="#54575b" fill-opacity="0.58"/><circle cx="277.9" cy="1274.5" r="2.2" fill="#54575b" fill-opacity="0.47"/><circle cx="199.6" cy="1387.9" r="1.8" fill="#54575b" fill-opacity="0.62"/><circle cx="273.5" cy="1329.0" r="1.8" fill="#54575b" fill-opacity="0.46"/><circle cx="231.8" cy="1309.2" r="2.2" fill="#54575b" fill-opacity="0.72"/><circle cx="189.6" cy="1286.9" r="1.8" fill="#54575b" fill-opacity="0.65"/><circle cx="310.8" cy="1333.0" r="1.3" fill="#54575b" fill-opacity="0.78"/><circle cx="244.6" cy="1336.3" r="1.6" fill="#54575b" fill-opacity="0.62"/><circle cx="237.4" cy="1380.3" r="1.4" fill="#54575b" fill-opacity="0.67"/><circle cx="200.8" cy="1367.1" r="1.3" fill="#54575b" fill-opacity="0.56"/><circle cx="229.7" cy="1356.8" r="1.4" fill="#54575b" fill-opacity="0.63"/><circle cx="206.1" cy="1295.0" r="1.9" fill="#54575b" fill-opacity="0.83"/><circle cx="253.5" cy="1412.3" r="1.5" fill="#54575b" fill-opacity="0.82"/><circle cx="233.2" cy="1278.9" r="2.3" fill="#54575b" fill-opacity="0.81"/><circle cx="303.9" cy="1305.5" r="1.6" fill="#54575b" fill-opacity="0.45"/><circle cx="225.9" cy="1383.0" r="2.4" fill="#54575b" fill-opacity="0.71"/><circle cx="209.7" cy="1337.7" r="1.9" fill="#54575b" fill-opacity="0.70"/><circle cx="220.5" cy="1397.9" r="1.7" fill="#54575b" fill-opacity="0.83"/><circle cx="259.4" cy="1367.1" r="2.2" fill="#54575b" fill-opacity="0.54"/><circle cx="219.4" cy="1290.4" r="2.2" fill="#54575b" fill-opacity="0.73"/><circle cx="242.9" cy="1288.0" r="1.9" fill="#54575b" fill-opacity="0.84"/><circle cx="267.2" cy="1354.7" r="2.5" fill="#54575b" fill-opacity="0.83"/><circle cx="302.1" cy="1318.7" r="2.1" fill="#54575b" fill-opacity="0.81"/><circle cx="307.1" cy="1346.9" r="1.8" fill="#54575b" fill-opacity="0.60"/><circle cx="297.8" cy="1344.0" r="1.3" fill="#54575b" fill-opacity="0.73"/><circle cx="262.9" cy="1383.3" r="1.8" fill="#54575b" fill-opacity="0.49"/><circle cx="231.3" cy="1300.3" r="2.5" fill="#54575b" fill-opacity="0.73"/><circle cx="264.0" cy="1354.2" r="1.5" fill="#54575b" fill-opacity="0.66"/><circle cx="291.7" cy="1314.6" r="1.6" fill="#54575b" fill-opacity="0.61"/></g>
<g filter="url(#blur2)"><circle cx="226.1" cy="1365.2" r="3.4" fill="#54575b" fill-opacity="0.32"/><circle cx="224.2" cy="1367.1" r="4.9" fill="#54575b" fill-opacity="0.46"/><circle cx="247.0" cy="1277.2" r="4.7" fill="#54575b" fill-opacity="0.39"/><circle cx="211.3" cy="1303.0" r="5.4" fill="#54575b" fill-opacity="0.30"/><circle cx="253.8" cy="1337.0" r="7.0" fill="#54575b" fill-opacity="0.55"/><circle cx="256.8" cy="1351.0" r="5.0" fill="#54575b" fill-opacity="0.50"/><circle cx="284.8" cy="1321.0" r="4.0" fill="#54575b" fill-opacity="0.50"/><circle cx="246.8" cy="1303.0" r="4.0" fill="#54575b" fill-opacity="0.40"/><circle cx="291.8" cy="1373.0" r="4.0" fill="#54575b" fill-opacity="0.50"/><circle cx="211.8" cy="1343.0" r="4.0" fill="#54575b" fill-opacity="0.40"/><circle cx="276.8" cy="1398.0" r="4.0" fill="#54575b" fill-opacity="0.40"/></g>
<circle cx="442.80" cy="1333.00" r="88.20" fill="#cbcccf"/>
<circle cx="442.80" cy="1333.00" r="87.00" fill="url(#dishg)"/>
<circle cx="442.80" cy="1333.00" r="86.00" fill="#000" filter="url(#mottle)"/>
<g filter="url(#blur1)"><circle cx="400.9" cy="1365.2" r="2.2" fill="#54575b" fill-opacity="0.79"/><circle cx="388.1" cy="1286.1" r="1.5" fill="#54575b" fill-opacity="0.54"/><circle cx="483.5" cy="1268.7" r="2.0" fill="#54575b" fill-opacity="0.54"/><circle cx="407.1" cy="1321.1" r="2.4" fill="#54575b" fill-opacity="0.69"/><circle cx="496.7" cy="1386.3" r="2.4" fill="#54575b" fill-opacity="0.75"/><circle cx="400.5" cy="1393.9" r="1.9" fill="#54575b" fill-opacity="0.75"/><circle cx="454.0" cy="1320.7" r="1.8" fill="#54575b" fill-opacity="0.62"/><circle cx="410.4" cy="1266.4" r="2.4" fill="#54575b" fill-opacity="0.77"/><circle cx="452.2" cy="1376.2" r="1.5" fill="#54575b" fill-opacity="0.72"/><circle cx="433.0" cy="1276.7" r="1.6" fill="#54575b" fill-opacity="0.66"/><circle cx="399.9" cy="1325.9" r="2.1" fill="#54575b" fill-opacity="0.61"/><circle cx="378.6" cy="1331.4" r="1.6" fill="#54575b" fill-opacity="0.54"/><circle cx="389.6" cy="1309.8" r="1.4" fill="#54575b" fill-opacity="0.71"/><circle cx="521.7" cy="1313.8" r="2.2" fill="#54575b" fill-opacity="0.82"/><circle cx="496.1" cy="1391.8" r="2.1" fill="#54575b" fill-opacity="0.51"/><circle cx="427.7" cy="1397.1" r="2.5" fill="#54575b" fill-opacity="0.77"/><circle cx="391.1" cy="1394.5" r="1.8" fill="#54575b" fill-opacity="0.74"/><circle cx="460.8" cy="1371.8" r="1.6" fill="#54575b" fill-opacity="0.70"/><circle cx="456.9" cy="1348.9" r="1.8" fill="#54575b" fill-opacity="0.74"/><circle cx="415.2" cy="1297.4" r="1.5" fill="#54575b" fill-opacity="0.72"/><circle cx="367.8" cy="1358.0" r="2.0" fill="#54575b" fill-opacity="0.67"/><circle cx="362.6" cy="1322.5" r="1.7" fill="#54575b" fill-opacity="0.49"/><circle cx="376.9" cy="1298.5" r="1.6" fill="#54575b" fill-opacity="0.69"/><circle cx="369.3" cy="1327.8" r="1.8" fill="#54575b" fill-opacity="0.78"/></g>
<g filter="url(#blur2)"><circle cx="445.7" cy="1328.5" r="4.7" fill="#54575b" fill-opacity="0.37"/><circle cx="400.7" cy="1365.0" r="5.1" fill="#54575b" fill-opacity="0.36"/><circle cx="447.8" cy="1337.0" r="6.0" fill="#54575b" fill-opacity="0.60"/><circle cx="487.8" cy="1318.0" r="4.0" fill="#54575b" fill-opacity="0.55"/><circle cx="417.8" cy="1353.0" r="3.5" fill="#54575b" fill-opacity="0.50"/><circle cx="432.8" cy="1401.0" r="4.0" fill="#54575b" fill-opacity="0.40"/><circle cx="497.8" cy="1338.0" r="3.0" fill="#54575b" fill-opacity="0.50"/><circle cx="402.8" cy="1303.0" r="3.0" fill="#54575b" fill-opacity="0.40"/></g>
<circle cx="631.00" cy="1333.00" r="88.20" fill="#cbcccf"/>
<circle cx="631.00" cy="1333.00" r="87.00" fill="url(#dishg)"/>
<circle cx="631.00" cy="1333.00" r="86.00" fill="#000" filter="url(#mottle)"/>
<g filter="url(#blur1)"><circle cx="562.6" cy="1368.2" r="2.1" fill="#54575b" fill-opacity="0.83"/><circle cx="591.2" cy="1290.5" r="2.3" fill="#54575b" fill-opacity="0.71"/><circle cx="596.7" cy="1365.1" r="1.8" fill="#54575b" fill-opacity="0.76"/><circle cx="700.9" cy="1308.3" r="1.6" fill="#54575b" fill-opacity="0.77"/><circle cx="653.9" cy="1272.0" r="2.0" fill="#54575b" fill-opacity="0.72"/><circle cx="572.7" cy="1359.4" r="1.5" fill="#54575b" fill-opacity="0.58"/><circle cx="649.7" cy="1397.8" r="2.2" fill="#54575b" fill-opacity="0.49"/><circle cx="646.5" cy="1356.3" r="1.5" fill="#54575b" fill-opacity="0.49"/><circle cx="696.2" cy="1335.4" r="1.6" fill="#54575b" fill-opacity="0.63"/><circle cx="582.0" cy="1384.9" r="2.0" fill="#54575b" fill-opacity="0.49"/><circle cx="672.8" cy="1265.8" r="2.0" fill="#54575b" fill-opacity="0.49"/><circle cx="627.6" cy="1365.3" r="2.0" fill="#54575b" fill-opacity="0.63"/><circle cx="628.4" cy="1322.0" r="2.1" fill="#54575b" fill-opacity="0.49"/><circle cx="626.6" cy="1287.1" r="2.4" fill="#54575b" fill-opacity="0.83"/><circle cx="666.4" cy="1345.4" r="1.3" fill="#54575b" fill-opacity="0.73"/><circle cx="708.2" cy="1319.6" r="1.8" fill="#54575b" fill-opacity="0.68"/></g>
<g filter="url(#blur2)"><circle cx="596.6" cy="1278.8" r="4.6" fill="#54575b" fill-opacity="0.42"/><circle cx="566.0" cy="1348.0" r="4.0" fill="#54575b" fill-opacity="0.50"/><circle cx="701.0" cy="1338.0" r="3.0" fill="#54575b" fill-opacity="0.40"/></g>
<circle cx="256.80" cy="1567.70" r="88.20" fill="#cbcccf"/>
<circle cx="256.80" cy="1567.70" r="87.00" fill="url(#dishg)"/>
<circle cx="256.80" cy="1567.70" r="86.00" fill="#000" filter="url(#mottle)"/>
<g filter="url(#blur1)"><circle cx="297.9" cy="1508.2" r="2.6" fill="#54575b" fill-opacity="0.46"/><circle cx="322.8" cy="1599.3" r="2.4" fill="#54575b" fill-opacity="0.85"/><circle cx="211.5" cy="1539.5" r="2.2" fill="#54575b" fill-opacity="0.56"/><circle cx="215.6" cy="1520.5" r="2.4" fill="#54575b" fill-opacity="0.80"/><circle cx="308.6" cy="1519.6" r="2.5" fill="#54575b" fill-opacity="0.65"/><circle cx="210.1" cy="1560.0" r="1.8" fill="#54575b" fill-opacity="0.48"/><circle cx="268.1" cy="1543.3" r="2.0" fill="#54575b" fill-opacity="0.82"/><circle cx="282.1" cy="1551.2" r="2.4" fill="#54575b" fill-opacity="0.85"/><circle cx="255.1" cy="1645.1" r="1.3" fill="#54575b" fill-opacity="0.51"/><circle cx="289.9" cy="1605.8" r="1.7" fill="#54575b" fill-opacity="0.65"/><circle cx="251.3" cy="1626.9" r="2.0" fill="#54575b" fill-opacity="0.61"/><circle cx="257.2" cy="1511.9" r="2.5" fill="#54575b" fill-opacity="0.59"/><circle cx="210.7" cy="1534.9" r="2.4" fill="#54575b" fill-opacity="0.58"/><circle cx="327.2" cy="1539.2" r="1.9" fill="#54575b" fill-opacity="0.48"/><circle cx="252.4" cy="1500.8" r="1.9" fill="#54575b" fill-opacity="0.60"/><circle cx="298.8" cy="1530.7" r="1.4" fill="#54575b" fill-opacity="0.81"/><circle cx="256.8" cy="1564.4" r="2.6" fill="#54575b" fill-opacity="0.47"/><circle cx="268.9" cy="1561.1" r="2.3" fill="#54575b" fill-opacity="0.69"/></g>
<g filter="url(#blur2)"><circle cx="290.3" cy="1525.2" r="3.2" fill="#54575b" fill-opacity="0.30"/><circle cx="227.8" cy="1593.5" r="3.9" fill="#54575b" fill-opacity="0.39"/><circle cx="277.4" cy="1603.4" r="4.5" fill="#54575b" fill-opacity="0.38"/><circle cx="312.8" cy="1620.0" r="5.2" fill="#54575b" fill-opacity="0.52"/><circle cx="253.8" cy="1557.7" r="8.0" fill="#54575b" fill-opacity="0.55"/><circle cx="266.8" cy="1559.7" r="5.0" fill="#54575b" fill-opacity="0.45"/><circle cx="234.8" cy="1592.7" r="6.0" fill="#54575b" fill-opacity="0.55"/><circle cx="254.8" cy="1587.7" r="6.0" fill="#54575b" fill-opacity="0.35"/><circle cx="241.8" cy="1555.7" r="4.0" fill="#54575b" fill-opacity="0.35"/><circle cx="261.8" cy="1579.7" r="4.0" fill="#54575b" fill-opacity="0.35"/></g>
<circle cx="442.80" cy="1567.70" r="88.20" fill="#cbcccf"/>
<circle cx="442.80" cy="1567.70" r="87.00" fill="url(#dishg)"/>
<circle cx="442.80" cy="1567.70" r="86.00" fill="#000" filter="url(#mottle)"/>
<g filter="url(#blur1)"><circle cx="418.7" cy="1564.3" r="1.8" fill="#54575b" fill-opacity="0.63"/><circle cx="427.1" cy="1595.1" r="1.6" fill="#54575b" fill-opacity="0.70"/><circle cx="414.1" cy="1505.4" r="2.3" fill="#54575b" fill-opacity="0.57"/><circle cx="399.9" cy="1636.2" r="2.3" fill="#54575b" fill-opacity="0.72"/><circle cx="464.9" cy="1532.2" r="1.6" fill="#54575b" fill-opacity="0.57"/><circle cx="400.7" cy="1617.8" r="1.8" fill="#54575b" fill-opacity="0.62"/><circle cx="493.3" cy="1571.8" r="1.6" fill="#54575b" fill-opacity="0.51"/><circle cx="408.7" cy="1560.9" r="1.4" fill="#54575b" fill-opacity="0.73"/><circle cx="502.4" cy="1566.2" r="2.5" fill="#54575b" fill-opacity="0.64"/><circle cx="494.3" cy="1559.7" r="2.1" fill="#54575b" fill-opacity="0.65"/><circle cx="396.2" cy="1551.4" r="1.8" fill="#54575b" fill-opacity="0.67"/><circle cx="470.5" cy="1550.3" r="1.7" fill="#54575b" fill-opacity="0.65"/><circle cx="469.8" cy="1622.9" r="1.6" fill="#54575b" fill-opacity="0.49"/><circle cx="489.0" cy="1507.4" r="2.1" fill="#54575b" fill-opacity="0.55"/><circle cx="447.2" cy="1640.6" r="1.4" fill="#54575b" fill-opacity="0.51"/><circle cx="436.6" cy="1607.8" r="1.9" fill="#54575b" fill-opacity="0.47"/><circle cx="471.9" cy="1641.6" r="2.0" fill="#54575b" fill-opacity="0.49"/><circle cx="393.4" cy="1553.1" r="1.4" fill="#54575b" fill-opacity="0.50"/><circle cx="431.3" cy="1627.0" r="1.6" fill="#54575b" fill-opacity="0.80"/><circle cx="508.2" cy="1556.0" r="1.6" fill="#54575b" fill-opacity="0.52"/><circle cx="471.9" cy="1624.4" r="2.4" fill="#54575b" fill-opacity="0.53"/><circle cx="408.8" cy="1532.0" r="1.5" fill="#54575b" fill-opacity="0.48"/><circle cx="442.6" cy="1573.7" r="1.9" fill="#54575b" fill-opacity="0.69"/><circle cx="443.2" cy="1566.0" r="1.4" fill="#54575b" fill-opacity="0.70"/><circle cx="472.2" cy="1606.7" r="1.7" fill="#54575b" fill-opacity="0.63"/><circle cx="496.1" cy="1607.4" r="1.4" fill="#54575b" fill-opacity="0.58"/><circle cx="385.6" cy="1604.4" r="1.8" fill="#54575b" fill-opacity="0.61"/><circle cx="394.6" cy="1559.7" r="2.2" fill="#54575b" fill-opacity="0.70"/></g>
<g filter="url(#blur2)"><circle cx="394.4" cy="1549.5" r="4.6" fill="#54575b" fill-opacity="0.31"/><circle cx="464.6" cy="1506.3" r="5.4" fill="#54575b" fill-opacity="0.47"/><circle cx="394.5" cy="1568.3" r="5.1" fill="#54575b" fill-opacity="0.51"/><circle cx="442.8" cy="1571.7" r="6.0" fill="#54575b" fill-opacity="0.60"/><circle cx="414.8" cy="1547.7" r="4.0" fill="#54575b" fill-opacity="0.50"/><circle cx="437.8" cy="1602.7" r="3.5" fill="#54575b" fill-opacity="0.50"/><circle cx="412.8" cy="1607.7" r="3.0" fill="#54575b" fill-opacity="0.45"/></g>
<circle cx="631.00" cy="1567.70" r="88.20" fill="#cbcccf"/>
<circle cx="631.00" cy="1567.70" r="87.00" fill="url(#dishg)"/>
<circle cx="631.00" cy="1567.70" r="86.00" fill="#000" filter="url(#mottle)"/>
<g filter="url(#blur1)"><circle cx="634.8" cy="1621.1" r="2.5" fill="#54575b" fill-opacity="0.57"/><circle cx="677.3" cy="1603.2" r="2.2" fill="#54575b" fill-opacity="0.49"/><circle cx="673.9" cy="1524.6" r="2.0" fill="#54575b" fill-opacity="0.58"/><circle cx="666.8" cy="1577.9" r="2.5" fill="#54575b" fill-opacity="0.53"/><circle cx="638.0" cy="1634.2" r="2.1" fill="#54575b" fill-opacity="0.57"/><circle cx="609.2" cy="1615.4" r="2.4" fill="#54575b" fill-opacity="0.55"/><circle cx="640.9" cy="1647.3" r="2.0" fill="#54575b" fill-opacity="0.59"/><circle cx="590.5" cy="1617.5" r="1.6" fill="#54575b" fill-opacity="0.69"/><circle cx="640.7" cy="1577.0" r="1.5" fill="#54575b" fill-opacity="0.71"/><circle cx="703.5" cy="1536.2" r="1.7" fill="#54575b" fill-opacity="0.81"/><circle cx="644.6" cy="1528.1" r="1.3" fill="#54575b" fill-opacity="0.75"/><circle cx="604.6" cy="1562.0" r="1.7" fill="#54575b" fill-opacity="0.70"/><circle cx="670.8" cy="1534.6" r="1.4" fill="#54575b" fill-opacity="0.84"/><circle cx="642.2" cy="1600.1" r="1.8" fill="#54575b" fill-opacity="0.74"/><circle cx="711.0" cy="1583.4" r="1.8" fill="#54575b" fill-opacity="0.53"/><circle cx="587.7" cy="1506.9" r="1.4" fill="#54575b" fill-opacity="0.53"/><circle cx="690.5" cy="1574.1" r="2.3" fill="#54575b" fill-opacity="0.82"/><circle cx="678.1" cy="1626.7" r="2.2" fill="#54575b" fill-opacity="0.61"/><circle cx="654.8" cy="1522.8" r="2.0" fill="#54575b" fill-opacity="0.56"/><circle cx="572.4" cy="1532.1" r="2.2" fill="#54575b" fill-opacity="0.64"/></g>
<g filter="url(#blur2)"><circle cx="656.0" cy="1519.7" r="3.0" fill="#54575b" fill-opacity="0.50"/><circle cx="561.0" cy="1542.7" r="3.0" fill="#54575b" fill-opacity="0.40"/></g>
<circle cx="256.80" cy="1803.00" r="88.20" fill="#cbcccf"/>
<circle cx="256.80" cy="1803.00" r="87.00" fill="url(#dishg)"/>
<circle cx="256.80" cy="1803.00" r="86.00" fill="#000" filter="url(#mottle)"/>
<g filter="url(#blur1)"><circle cx="201.3" cy="1831.1" r="1.7" fill="#54575b" fill-opacity="0.53"/><circle cx="255.0" cy="1802.0" r="1.9" fill="#54575b" fill-opacity="0.63"/><circle cx="215.8" cy="1760.2" r="2.2" fill="#54575b" fill-opacity="0.58"/><circle cx="287.2" cy="1853.0" r="2.4" fill="#54575b" fill-opacity="0.83"/><circle cx="210.6" cy="1757.3" r="2.3" fill="#54575b" fill-opacity="0.68"/><circle cx="204.9" cy="1833.9" r="2.4" fill="#54575b" fill-opacity="0.78"/><circle cx="207.4" cy="1768.0" r="1.3" fill="#54575b" fill-opacity="0.84"/><circle cx="208.2" cy="1842.5" r="2.0" fill="#54575b" fill-opacity="0.69"/><circle cx="261.5" cy="1859.6" r="2.1" fill="#54575b" fill-opacity="0.57"/><circle cx="189.8" cy="1799.1" r="2.5" fill="#54575b" fill-opacity="0.51"/><circle cx="288.8" cy="1825.8" r="1.5" fill="#54575b" fill-opacity="0.53"/><circle cx="289.2" cy="1792.0" r="1.8" fill="#54575b" fill-opacity="0.64"/><circle cx="187.4" cy="1838.6" r="2.1" fill="#54575b" fill-opacity="0.66"/><circle cx="228.9" cy="1857.2" r="2.4" fill="#54575b" fill-opacity="0.67"/><circle cx="282.6" cy="1810.6" r="1.6" fill="#54575b" fill-opacity="0.81"/><circle cx="279.4" cy="1853.8" r="2.4" fill="#54575b" fill-opacity="0.72"/><circle cx="192.9" cy="1835.9" r="2.4" fill="#54575b" fill-opacity="0.64"/><circle cx="312.0" cy="1747.6" r="1.8" fill="#54575b" fill-opacity="0.56"/><circle cx="238.9" cy="1838.1" r="1.5" fill="#54575b" fill-opacity="0.59"/><circle cx="317.0" cy="1768.4" r="1.5" fill="#54575b" fill-opacity="0.85"/></g>
<g filter="url(#blur2)"><circle cx="269.2" cy="1741.4" r="3.4" fill="#54575b" fill-opacity="0.48"/><circle cx="283.3" cy="1790.2" r="4.3" fill="#54575b" fill-opacity="0.44"/><circle cx="249.7" cy="1733.6" r="4.9" fill="#54575b" fill-opacity="0.49"/><circle cx="243.2" cy="1786.3" r="4.5" fill="#54575b" fill-opacity="0.42"/><circle cx="242.1" cy="1868.4" r="5.3" fill="#54575b" fill-opacity="0.34"/><circle cx="199.8" cy="1852.5" r="5.4" fill="#54575b" fill-opacity="0.48"/><circle cx="244.8" cy="1807.0" r="10.0" fill="#54575b" fill-opacity="0.55"/><circle cx="268.8" cy="1781.0" r="7.0" fill="#54575b" fill-opacity="0.50"/><circle cx="256.8" cy="1801.0" r="7.0" fill="#54575b" fill-opacity="0.40"/><circle cx="296.8" cy="1791.0" r="5.0" fill="#54575b" fill-opacity="0.45"/><circle cx="236.8" cy="1763.0" r="4.0" fill="#54575b" fill-opacity="0.40"/><circle cx="186.8" cy="1833.0" r="4.0" fill="#54575b" fill-opacity="0.50"/><circle cx="241.8" cy="1853.0" r="4.0" fill="#54575b" fill-opacity="0.40"/><circle cx="286.8" cy="1843.0" r="3.5" fill="#54575b" fill-opacity="0.40"/></g>
<circle cx="442.80" cy="1803.00" r="88.20" fill="#cbcccf"/>
<circle cx="442.80" cy="1803.00" r="87.00" fill="url(#dishg)"/>
<circle cx="442.80" cy="1803.00" r="86.00" fill="#000" filter="url(#mottle)"/>
<g filter="url(#blur1)"><circle cx="473.6" cy="1852.6" r="2.0" fill="#54575b" fill-opacity="0.65"/><circle cx="406.1" cy="1741.8" r="1.6" fill="#54575b" fill-opacity="0.55"/><circle cx="412.8" cy="1762.6" r="1.4" fill="#54575b" fill-opacity="0.58"/><circle cx="409.9" cy="1815.0" r="1.6" fill="#54575b" fill-opacity="0.48"/><circle cx="391.0" cy="1810.4" r="1.8" fill="#54575b" fill-opacity="0.74"/><circle cx="495.5" cy="1788.1" r="1.4" fill="#54575b" fill-opacity="0.74"/><circle cx="487.3" cy="1784.9" r="2.2" fill="#54575b" fill-opacity="0.57"/><circle cx="396.3" cy="1810.9" r="2.3" fill="#54575b" fill-opacity="0.77"/><circle cx="423.7" cy="1740.1" r="2.1" fill="#54575b" fill-opacity="0.49"/><circle cx="434.9" cy="1799.5" r="1.5" fill="#54575b" fill-opacity="0.64"/><circle cx="442.8" cy="1780.2" r="2.5" fill="#54575b" fill-opacity="0.80"/><circle cx="510.8" cy="1758.6" r="1.3" fill="#54575b" fill-opacity="0.60"/><circle cx="375.6" cy="1838.7" r="1.6" fill="#54575b" fill-opacity="0.50"/><circle cx="405.2" cy="1786.2" r="2.3" fill="#54575b" fill-opacity="0.63"/><circle cx="408.2" cy="1833.9" r="1.4" fill="#54575b" fill-opacity="0.53"/><circle cx="475.4" cy="1846.9" r="1.4" fill="#54575b" fill-opacity="0.48"/><circle cx="443.8" cy="1830.2" r="1.3" fill="#54575b" fill-opacity="0.62"/><circle cx="385.6" cy="1765.7" r="1.9" fill="#54575b" fill-opacity="0.49"/><circle cx="463.7" cy="1868.9" r="2.2" fill="#54575b" fill-opacity="0.48"/><circle cx="468.6" cy="1826.3" r="1.3" fill="#54575b" fill-opacity="0.60"/><circle cx="517.4" cy="1815.1" r="2.1" fill="#54575b" fill-opacity="0.83"/><circle cx="392.4" cy="1804.6" r="1.4" fill="#54575b" fill-opacity="0.76"/><circle cx="469.5" cy="1752.6" r="1.6" fill="#54575b" fill-opacity="0.66"/><circle cx="486.6" cy="1739.6" r="1.7" fill="#54575b" fill-opacity="0.66"/><circle cx="401.2" cy="1869.9" r="2.2" fill="#54575b" fill-opacity="0.83"/><circle cx="467.3" cy="1834.5" r="1.7" fill="#54575b" fill-opacity="0.65"/><circle cx="430.5" cy="1799.3" r="1.4" fill="#54575b" fill-opacity="0.79"/><circle cx="382.7" cy="1795.7" r="2.5" fill="#54575b" fill-opacity="0.66"/></g>
<g filter="url(#blur2)"><circle cx="506.9" cy="1761.3" r="4.2" fill="#54575b" fill-opacity="0.39"/><circle cx="412.2" cy="1780.3" r="4.1" fill="#54575b" fill-opacity="0.51"/><circle cx="472.0" cy="1808.0" r="4.0" fill="#54575b" fill-opacity="0.31"/><circle cx="418.8" cy="1771.2" r="3.9" fill="#54575b" fill-opacity="0.45"/><circle cx="419.7" cy="1767.5" r="3.7" fill="#54575b" fill-opacity="0.54"/><circle cx="438.8" cy="1799.0" r="7.0" fill="#54575b" fill-opacity="0.55"/><circle cx="452.8" cy="1795.0" r="5.0" fill="#54575b" fill-opacity="0.40"/><circle cx="432.8" cy="1813.0" r="5.0" fill="#54575b" fill-opacity="0.35"/><circle cx="412.8" cy="1775.0" r="3.5" fill="#54575b" fill-opacity="0.45"/><circle cx="470.8" cy="1793.0" r="4.0" fill="#54575b" fill-opacity="0.40"/><circle cx="482.8" cy="1803.0" r="3.0" fill="#54575b" fill-opacity="0.40"/></g>
<circle cx="631.00" cy="1803.00" r="88.20" fill="#cbcccf"/>
<circle cx="631.00" cy="1803.00" r="87.00" fill="url(#dishg)"/>
<circle cx="631.00" cy="1803.00" r="86.00" fill="#000" filter="url(#mottle)"/>
<g filter="url(#blur1)"><circle cx="701.6" cy="1835.4" r="2.3" fill="#54575b" fill-opacity="0.81"/><circle cx="589.2" cy="1826.6" r="2.5" fill="#54575b" fill-opacity="0.80"/><circle cx="643.7" cy="1745.5" r="1.8" fill="#54575b" fill-opacity="0.85"/><circle cx="562.0" cy="1771.5" r="2.5" fill="#54575b" fill-opacity="0.63"/><circle cx="580.3" cy="1771.1" r="2.5" fill="#54575b" fill-opacity="0.58"/><circle cx="618.4" cy="1825.2" r="2.3" fill="#54575b" fill-opacity="0.65"/><circle cx="558.2" cy="1815.7" r="1.3" fill="#54575b" fill-opacity="0.49"/><circle cx="577.1" cy="1836.7" r="1.7" fill="#54575b" fill-opacity="0.73"/><circle cx="693.5" cy="1754.2" r="1.6" fill="#54575b" fill-opacity="0.46"/><circle cx="656.2" cy="1768.3" r="1.5" fill="#54575b" fill-opacity="0.71"/><circle cx="648.4" cy="1793.8" r="1.5" fill="#54575b" fill-opacity="0.71"/><circle cx="640.7" cy="1791.3" r="1.5" fill="#54575b" fill-opacity="0.82"/><circle cx="694.2" cy="1836.0" r="2.6" fill="#54575b" fill-opacity="0.68"/><circle cx="604.0" cy="1736.2" r="2.1" fill="#54575b" fill-opacity="0.66"/><circle cx="657.4" cy="1770.9" r="2.2" fill="#54575b" fill-opacity="0.83"/><circle cx="636.3" cy="1848.7" r="1.4" fill="#54575b" fill-opacity="0.72"/><circle cx="564.5" cy="1795.2" r="1.7" fill="#54575b" fill-opacity="0.48"/><circle cx="659.2" cy="1768.4" r="1.4" fill="#54575b" fill-opacity="0.46"/><circle cx="582.2" cy="1804.2" r="1.3" fill="#54575b" fill-opacity="0.46"/><circle cx="660.0" cy="1807.7" r="1.5" fill="#54575b" fill-opacity="0.57"/><circle cx="565.9" cy="1763.9" r="1.8" fill="#54575b" fill-opacity="0.54"/><circle cx="578.4" cy="1755.4" r="1.7" fill="#54575b" fill-opacity="0.67"/><circle cx="698.2" cy="1828.7" r="1.9" fill="#54575b" fill-opacity="0.45"/><circle cx="576.8" cy="1826.4" r="1.8" fill="#54575b" fill-opacity="0.79"/><circle cx="702.1" cy="1767.6" r="1.8" fill="#54575b" fill-opacity="0.57"/><circle cx="661.7" cy="1733.2" r="1.7" fill="#54575b" fill-opacity="0.80"/><circle cx="612.9" cy="1861.6" r="1.9" fill="#54575b" fill-opacity="0.49"/><circle cx="644.5" cy="1752.8" r="2.5" fill="#54575b" fill-opacity="0.73"/><circle cx="636.1" cy="1876.5" r="2.0" fill="#54575b" fill-opacity="0.84"/><circle cx="668.4" cy="1747.1" r="1.7" fill="#54575b" fill-opacity="0.79"/><circle cx="651.6" cy="1786.7" r="2.1" fill="#54575b" fill-opacity="0.68"/><circle cx="606.6" cy="1765.2" r="1.4" fill="#54575b" fill-opacity="0.71"/><circle cx="697.2" cy="1781.4" r="2.4" fill="#54575b" fill-opacity="0.61"/><circle cx="588.3" cy="1855.3" r="2.5" fill="#54575b" fill-opacity="0.49"/></g>
<g filter="url(#blur2)"><circle cx="695.6" cy="1771.5" r="4.9" fill="#54575b" fill-opacity="0.37"/><circle cx="604.9" cy="1741.5" r="3.6" fill="#54575b" fill-opacity="0.43"/><circle cx="578.0" cy="1808.0" r="5.0" fill="#54575b" fill-opacity="0.65"/><circle cx="631.0" cy="1763.0" r="3.0" fill="#54575b" fill-opacity="0.50"/><circle cx="651.0" cy="1833.0" r="3.0" fill="#54575b" fill-opacity="0.50"/><circle cx="641.0" cy="1815.0" r="3.0" fill="#54575b" fill-opacity="0.50"/></g>
<circle cx="256.80" cy="2127.60" r="88.20" fill="#cbcccf"/>
<circle cx="256.80" cy="2127.60" r="87.00" fill="url(#dishg)"/>
<circle cx="256.80" cy="2127.60" r="86.00" fill="#000" filter="url(#mottle)"/>
<g filter="url(#blur1)"><circle cx="198.5" cy="2160.6" r="2.1" fill="#5a5d61" fill-opacity="0.64"/><circle cx="207.4" cy="2178.5" r="2.4" fill="#5a5d61" fill-opacity="0.65"/><circle cx="257.7" cy="2081.7" r="1.3" fill="#5a5d61" fill-opacity="0.60"/><circle cx="271.7" cy="2052.7" r="2.3" fill="#5a5d61" fill-opacity="0.54"/><circle cx="322.1" cy="2147.8" r="1.3" fill="#5a5d61" fill-opacity="0.58"/><circle cx="256.4" cy="2060.8" r="2.5" fill="#5a5d61" fill-opacity="0.60"/><circle cx="196.7" cy="2182.8" r="1.5" fill="#5a5d61" fill-opacity="0.82"/><circle cx="248.6" cy="2136.6" r="1.7" fill="#5a5d61" fill-opacity="0.64"/><circle cx="320.5" cy="2081.5" r="2.3" fill="#5a5d61" fill-opacity="0.53"/><circle cx="301.1" cy="2173.3" r="2.1" fill="#5a5d61" fill-opacity="0.74"/></g>
<g filter="url(#blur2)"><circle cx="191.1" cy="2123.5" r="7.3" fill="#5a5d61" fill-opacity="0.26"/><circle cx="241.1" cy="2104.1" r="5.8" fill="#5a5d61" fill-opacity="0.30"/><circle cx="256.1" cy="2126.1" r="6.2" fill="#5a5d61" fill-opacity="0.37"/><circle cx="208.4" cy="2146.5" r="6.2" fill="#5a5d61" fill-opacity="0.34"/><circle cx="230.1" cy="2144.5" r="5.2" fill="#5a5d61" fill-opacity="0.24"/><circle cx="305.0" cy="2105.8" r="6.7" fill="#5a5d61" fill-opacity="0.36"/><circle cx="323.5" cy="2126.0" r="5.5" fill="#5a5d61" fill-opacity="0.27"/><circle cx="304.5" cy="2124.7" r="7.3" fill="#5a5d61" fill-opacity="0.23"/><circle cx="214.7" cy="2091.0" r="5.7" fill="#5a5d61" fill-opacity="0.25"/><circle cx="299.6" cy="2123.9" r="5.0" fill="#5a5d61" fill-opacity="0.41"/><circle cx="261.3" cy="2167.4" r="4.1" fill="#5a5d61" fill-opacity="0.26"/><circle cx="323.2" cy="2145.2" r="5.7" fill="#5a5d61" fill-opacity="0.34"/><circle cx="317.6" cy="2094.2" r="6.1" fill="#5a5d61" fill-opacity="0.28"/><circle cx="281.8" cy="2188.8" r="6.3" fill="#5a5d61" fill-opacity="0.27"/><circle cx="283.8" cy="2062.6" r="6.2" fill="#5a5d61" fill-opacity="0.28"/><circle cx="255.7" cy="2078.8" r="4.7" fill="#5a5d61" fill-opacity="0.26"/><circle cx="235.5" cy="2164.1" r="6.2" fill="#5a5d61" fill-opacity="0.23"/><circle cx="293.5" cy="2192.7" r="7.1" fill="#5a5d61" fill-opacity="0.38"/><circle cx="200.3" cy="2164.4" r="5.0" fill="#5a5d61" fill-opacity="0.36"/><circle cx="237.5" cy="2094.4" r="7.6" fill="#5a5d61" fill-opacity="0.28"/><circle cx="257.3" cy="2136.2" r="7.8" fill="#5a5d61" fill-opacity="0.24"/><circle cx="274.4" cy="2129.0" r="6.9" fill="#5a5d61" fill-opacity="0.41"/><circle cx="223.8" cy="2162.3" r="6.1" fill="#5a5d61" fill-opacity="0.33"/><circle cx="302.0" cy="2118.6" r="6.5" fill="#5a5d61" fill-opacity="0.22"/><circle cx="241.8" cy="2117.6" r="6.0" fill="#5a5d61" fill-opacity="0.50"/><circle cx="261.8" cy="2139.6" r="7.0" fill="#5a5d61" fill-opacity="0.45"/><circle cx="231.8" cy="2147.6" r="6.0" fill="#5a5d61" fill-opacity="0.45"/><circle cx="206.8" cy="2112.6" r="5.0" fill="#5a5d61" fill-opacity="0.45"/><circle cx="266.8" cy="2087.6" r="6.0" fill="#5a5d61" fill-opacity="0.40"/><circle cx="281.8" cy="2172.6" r="5.0" fill="#5a5d61" fill-opacity="0.40"/><circle cx="246.8" cy="2182.6" r="5.0" fill="#5a5d61" fill-opacity="0.40"/><circle cx="296.8" cy="2107.6" r="4.0" fill="#5a5d61" fill-opacity="0.40"/></g>
<circle cx="256.80" cy="2317.90" r="88.20" fill="#cbcccf"/>
<circle cx="256.80" cy="2317.90" r="87.00" fill="url(#dishg)"/>
<circle cx="256.80" cy="2317.90" r="86.00" fill="#000" filter="url(#mottle)"/>
<g filter="url(#blur1)"><circle cx="283.1" cy="2291.0" r="2.5" fill="#5a5d61" fill-opacity="0.54"/><circle cx="274.4" cy="2393.1" r="2.2" fill="#5a5d61" fill-opacity="0.82"/><circle cx="323.2" cy="2333.5" r="1.7" fill="#5a5d61" fill-opacity="0.53"/><circle cx="317.7" cy="2332.3" r="2.5" fill="#5a5d61" fill-opacity="0.76"/><circle cx="337.0" cy="2329.4" r="2.2" fill="#5a5d61" fill-opacity="0.69"/><circle cx="224.2" cy="2366.8" r="2.5" fill="#5a5d61" fill-opacity="0.71"/><circle cx="285.9" cy="2263.1" r="1.4" fill="#5a5d61" fill-opacity="0.66"/><circle cx="257.9" cy="2320.9" r="1.8" fill="#5a5d61" fill-opacity="0.71"/><circle cx="329.3" cy="2284.4" r="1.8" fill="#5a5d61" fill-opacity="0.68"/><circle cx="221.5" cy="2334.5" r="2.0" fill="#5a5d61" fill-opacity="0.62"/><circle cx="286.9" cy="2322.8" r="1.4" fill="#5a5d61" fill-opacity="0.85"/><circle cx="231.7" cy="2306.0" r="1.8" fill="#5a5d61" fill-opacity="0.82"/></g>
<g filter="url(#blur2)"><circle cx="239.5" cy="2247.7" r="7.6" fill="#5a5d61" fill-opacity="0.25"/><circle cx="264.9" cy="2291.7" r="5.3" fill="#5a5d61" fill-opacity="0.29"/><circle cx="263.0" cy="2369.4" r="6.6" fill="#5a5d61" fill-opacity="0.26"/><circle cx="241.3" cy="2375.0" r="7.7" fill="#5a5d61" fill-opacity="0.31"/><circle cx="317.1" cy="2317.6" r="6.1" fill="#5a5d61" fill-opacity="0.34"/><circle cx="252.1" cy="2357.4" r="6.6" fill="#5a5d61" fill-opacity="0.29"/><circle cx="306.2" cy="2373.5" r="6.4" fill="#5a5d61" fill-opacity="0.41"/><circle cx="280.2" cy="2290.2" r="4.7" fill="#5a5d61" fill-opacity="0.36"/><circle cx="245.4" cy="2277.7" r="4.2" fill="#5a5d61" fill-opacity="0.41"/><circle cx="231.1" cy="2251.4" r="4.9" fill="#5a5d61" fill-opacity="0.27"/><circle cx="251.6" cy="2267.0" r="5.4" fill="#5a5d61" fill-opacity="0.37"/><circle cx="205.2" cy="2316.2" r="5.5" fill="#5a5d61" fill-opacity="0.37"/><circle cx="294.8" cy="2311.7" r="5.0" fill="#5a5d61" fill-opacity="0.27"/><circle cx="285.6" cy="2258.4" r="7.6" fill="#5a5d61" fill-opacity="0.35"/><circle cx="179.7" cy="2317.7" r="6.4" fill="#5a5d61" fill-opacity="0.23"/><circle cx="317.1" cy="2271.5" r="6.1" fill="#5a5d61" fill-opacity="0.25"/><circle cx="229.4" cy="2381.2" r="7.3" fill="#5a5d61" fill-opacity="0.22"/><circle cx="235.9" cy="2342.3" r="4.7" fill="#5a5d61" fill-opacity="0.38"/><circle cx="325.2" cy="2326.8" r="5.4" fill="#5a5d61" fill-opacity="0.39"/><circle cx="259.0" cy="2263.7" r="5.1" fill="#5a5d61" fill-opacity="0.25"/><circle cx="315.7" cy="2319.6" r="6.8" fill="#5a5d61" fill-opacity="0.38"/><circle cx="240.4" cy="2383.0" r="7.0" fill="#5a5d61" fill-opacity="0.30"/><circle cx="283.9" cy="2264.8" r="4.6" fill="#5a5d61" fill-opacity="0.23"/><circle cx="235.9" cy="2272.0" r="6.1" fill="#5a5d61" fill-opacity="0.41"/><circle cx="196.4" cy="2327.9" r="7.5" fill="#5a5d61" fill-opacity="0.34"/><circle cx="261.5" cy="2364.5" r="4.1" fill="#5a5d61" fill-opacity="0.41"/><circle cx="256.8" cy="2322.9" r="7.0" fill="#5a5d61" fill-opacity="0.45"/><circle cx="236.8" cy="2342.9" r="6.0" fill="#5a5d61" fill-opacity="0.40"/><circle cx="296.8" cy="2317.9" r="6.0" fill="#5a5d61" fill-opacity="0.40"/><circle cx="291.8" cy="2272.9" r="6.0" fill="#5a5d61" fill-opacity="0.40"/><circle cx="216.8" cy="2352.9" r="6.0" fill="#5a5d61" fill-opacity="0.40"/><circle cx="236.8" cy="2287.9" r="5.0" fill="#5a5d61" fill-opacity="0.40"/><circle cx="316.8" cy="2347.9" r="5.0" fill="#5a5d61" fill-opacity="0.40"/></g>
<circle cx="442.80" cy="2317.90" r="88.20" fill="#cbcccf"/>
<circle cx="442.80" cy="2317.90" r="87.00" fill="url(#dishg)"/>
<circle cx="442.80" cy="2317.90" r="86.00" fill="#000" filter="url(#mottle)"/>
<g filter="url(#blur1)"><circle cx="458.8" cy="2304.6" r="2.0" fill="#5a5d61" fill-opacity="0.50"/><circle cx="389.2" cy="2308.3" r="1.6" fill="#5a5d61" fill-opacity="0.63"/><circle cx="479.3" cy="2304.2" r="2.0" fill="#5a5d61" fill-opacity="0.74"/><circle cx="418.3" cy="2240.9" r="2.3" fill="#5a5d61" fill-opacity="0.69"/><circle cx="470.3" cy="2339.0" r="2.6" fill="#5a5d61" fill-opacity="0.60"/><circle cx="488.0" cy="2295.1" r="2.0" fill="#5a5d61" fill-opacity="0.71"/><circle cx="410.5" cy="2245.8" r="1.9" fill="#5a5d61" fill-opacity="0.74"/><circle cx="458.6" cy="2308.8" r="2.1" fill="#5a5d61" fill-opacity="0.52"/></g>
<g filter="url(#blur2)"><circle cx="386.9" cy="2287.2" r="7.3" fill="#5a5d61" fill-opacity="0.26"/><circle cx="455.5" cy="2373.7" r="5.3" fill="#5a5d61" fill-opacity="0.29"/><circle cx="406.0" cy="2283.9" r="7.1" fill="#5a5d61" fill-opacity="0.33"/><circle cx="492.2" cy="2353.9" r="7.3" fill="#5a5d61" fill-opacity="0.27"/><circle cx="450.7" cy="2390.8" r="6.4" fill="#5a5d61" fill-opacity="0.41"/><circle cx="486.1" cy="2291.1" r="7.9" fill="#5a5d61" fill-opacity="0.30"/><circle cx="436.9" cy="2265.1" r="7.7" fill="#5a5d61" fill-opacity="0.41"/><circle cx="447.8" cy="2260.4" r="6.2" fill="#5a5d61" fill-opacity="0.38"/><circle cx="399.8" cy="2304.3" r="7.6" fill="#5a5d61" fill-opacity="0.31"/><circle cx="415.4" cy="2386.2" r="7.3" fill="#5a5d61" fill-opacity="0.40"/><circle cx="475.5" cy="2302.7" r="6.8" fill="#5a5d61" fill-opacity="0.39"/><circle cx="467.1" cy="2272.4" r="5.2" fill="#5a5d61" fill-opacity="0.30"/><circle cx="490.1" cy="2327.8" r="6.2" fill="#5a5d61" fill-opacity="0.39"/><circle cx="374.7" cy="2340.7" r="5.3" fill="#5a5d61" fill-opacity="0.33"/><circle cx="501.2" cy="2274.1" r="7.8" fill="#5a5d61" fill-opacity="0.24"/><circle cx="453.6" cy="2325.2" r="4.9" fill="#5a5d61" fill-opacity="0.33"/><circle cx="397.8" cy="2305.9" r="6.0" fill="#5a5d61" fill-opacity="0.40"/><circle cx="460.8" cy="2319.9" r="6.0" fill="#5a5d61" fill-opacity="0.40"/><circle cx="442.8" cy="2357.9" r="5.0" fill="#5a5d61" fill-opacity="0.45"/><circle cx="487.8" cy="2317.9" r="5.0" fill="#5a5d61" fill-opacity="0.35"/><circle cx="422.8" cy="2342.9" r="5.0" fill="#5a5d61" fill-opacity="0.35"/></g>
<circle cx="631.00" cy="2317.90" r="88.20" fill="#cbcccf"/>
<circle cx="631.00" cy="2317.90" r="87.00" fill="url(#dishg)"/>
<circle cx="631.00" cy="2317.90" r="86.00" fill="#000" filter="url(#mottle)"/>
<g filter="url(#blur1)"><circle cx="667.9" cy="2377.0" r="1.5" fill="#5a5d61" fill-opacity="0.85"/><circle cx="577.8" cy="2347.6" r="1.4" fill="#5a5d61" fill-opacity="0.75"/><circle cx="570.3" cy="2353.8" r="2.2" fill="#5a5d61" fill-opacity="0.76"/><circle cx="620.8" cy="2381.5" r="2.6" fill="#5a5d61" fill-opacity="0.50"/><circle cx="633.9" cy="2397.6" r="2.3" fill="#5a5d61" fill-opacity="0.63"/><circle cx="600.9" cy="2284.0" r="2.0" fill="#5a5d61" fill-opacity="0.60"/><circle cx="599.0" cy="2386.6" r="1.4" fill="#5a5d61" fill-opacity="0.49"/><circle cx="659.7" cy="2369.9" r="2.4" fill="#5a5d61" fill-opacity="0.85"/></g>
<g filter="url(#blur2)"><circle cx="693.6" cy="2277.3" r="7.0" fill="#5a5d61" fill-opacity="0.40"/><circle cx="560.3" cy="2316.9" r="4.6" fill="#5a5d61" fill-opacity="0.25"/><circle cx="627.4" cy="2347.5" r="7.9" fill="#5a5d61" fill-opacity="0.25"/><circle cx="677.1" cy="2323.5" r="5.0" fill="#5a5d61" fill-opacity="0.35"/><circle cx="589.4" cy="2342.9" r="6.6" fill="#5a5d61" fill-opacity="0.30"/><circle cx="682.3" cy="2301.1" r="5.9" fill="#5a5d61" fill-opacity="0.39"/><circle cx="587.6" cy="2263.2" r="6.3" fill="#5a5d61" fill-opacity="0.31"/><circle cx="622.5" cy="2285.3" r="5.8" fill="#5a5d61" fill-opacity="0.37"/><circle cx="667.8" cy="2372.1" r="6.2" fill="#5a5d61" fill-opacity="0.34"/><circle cx="615.3" cy="2299.8" r="4.9" fill="#5a5d61" fill-opacity="0.28"/><circle cx="595.1" cy="2289.4" r="7.6" fill="#5a5d61" fill-opacity="0.38"/><circle cx="589.6" cy="2325.4" r="6.8" fill="#5a5d61" fill-opacity="0.30"/><circle cx="654.1" cy="2388.4" r="5.1" fill="#5a5d61" fill-opacity="0.30"/><circle cx="676.3" cy="2286.3" r="6.9" fill="#5a5d61" fill-opacity="0.30"/><circle cx="691.0" cy="2323.0" r="7.6" fill="#5a5d61" fill-opacity="0.26"/><circle cx="621.6" cy="2261.5" r="4.2" fill="#5a5d61" fill-opacity="0.38"/><circle cx="656.0" cy="2312.9" r="6.0" fill="#5a5d61" fill-opacity="0.50"/><circle cx="596.0" cy="2322.9" r="6.0" fill="#5a5d61" fill-opacity="0.40"/><circle cx="611.0" cy="2327.9" r="6.0" fill="#5a5d61" fill-opacity="0.35"/><circle cx="611.0" cy="2362.9" r="5.0" fill="#5a5d61" fill-opacity="0.35"/><circle cx="666.0" cy="2357.9" r="5.0" fill="#5a5d61" fill-opacity="0.35"/><circle cx="571.0" cy="2277.9" r="4.0" fill="#5a5d61" fill-opacity="0.40"/></g>
<circle cx="256.80" cy="2550.60" r="88.20" fill="#cbcccf"/>
<circle cx="256.80" cy="2550.60" r="87.00" fill="url(#dishg)"/>
<circle cx="256.80" cy="2550.60" r="86.00" fill="#000" filter="url(#mottle)"/>
<g filter="url(#blur1)"><circle cx="235.4" cy="2624.9" r="2.4" fill="#5a5d61" fill-opacity="0.54"/><circle cx="321.5" cy="2574.3" r="1.4" fill="#5a5d61" fill-opacity="0.83"/><circle cx="214.3" cy="2516.8" r="1.9" fill="#5a5d61" fill-opacity="0.69"/><circle cx="191.4" cy="2583.1" r="2.4" fill="#5a5d61" fill-opacity="0.65"/><circle cx="308.0" cy="2572.3" r="2.4" fill="#5a5d61" fill-opacity="0.52"/><circle cx="232.2" cy="2545.3" r="1.4" fill="#5a5d61" fill-opacity="0.84"/><circle cx="280.5" cy="2480.7" r="2.1" fill="#5a5d61" fill-opacity="0.62"/><circle cx="202.8" cy="2491.6" r="1.9" fill="#5a5d61" fill-opacity="0.48"/></g>
<g filter="url(#blur2)"><circle cx="267.8" cy="2553.2" r="4.5" fill="#5a5d61" fill-opacity="0.40"/><circle cx="312.0" cy="2502.0" r="5.7" fill="#5a5d61" fill-opacity="0.33"/><circle cx="245.6" cy="2549.6" r="6.0" fill="#5a5d61" fill-opacity="0.32"/><circle cx="240.8" cy="2605.3" r="6.5" fill="#5a5d61" fill-opacity="0.31"/><circle cx="253.0" cy="2501.8" r="6.5" fill="#5a5d61" fill-opacity="0.29"/><circle cx="185.9" cy="2582.7" r="7.5" fill="#5a5d61" fill-opacity="0.37"/><circle cx="198.9" cy="2563.0" r="6.5" fill="#5a5d61" fill-opacity="0.33"/><circle cx="248.4" cy="2516.5" r="6.0" fill="#5a5d61" fill-opacity="0.31"/><circle cx="288.4" cy="2541.6" r="5.4" fill="#5a5d61" fill-opacity="0.42"/><circle cx="242.4" cy="2603.7" r="6.8" fill="#5a5d61" fill-opacity="0.33"/><circle cx="276.0" cy="2503.5" r="4.1" fill="#5a5d61" fill-opacity="0.37"/><circle cx="311.0" cy="2566.4" r="4.1" fill="#5a5d61" fill-opacity="0.32"/><circle cx="276.4" cy="2477.2" r="5.6" fill="#5a5d61" fill-opacity="0.41"/><circle cx="291.8" cy="2490.6" r="5.5" fill="#5a5d61" fill-opacity="0.27"/><circle cx="234.8" cy="2558.6" r="11.0" fill="#5a5d61" fill-opacity="0.60"/><circle cx="226.8" cy="2528.6" r="7.0" fill="#5a5d61" fill-opacity="0.45"/><circle cx="281.8" cy="2530.6" r="7.0" fill="#5a5d61" fill-opacity="0.40"/><circle cx="266.8" cy="2515.6" r="6.0" fill="#5a5d61" fill-opacity="0.35"/><circle cx="286.8" cy="2550.6" r="5.0" fill="#5a5d61" fill-opacity="0.35"/><circle cx="206.8" cy="2580.6" r="4.0" fill="#5a5d61" fill-opacity="0.40"/></g>
<circle cx="442.80" cy="2550.60" r="88.20" fill="#cbcccf"/>
<circle cx="442.80" cy="2550.60" r="87.00" fill="url(#dishg)"/>
<circle cx="442.80" cy="2550.60" r="86.00" fill="#000" filter="url(#mottle)"/>
<g filter="url(#blur1)"><circle cx="485.8" cy="2498.9" r="1.6" fill="#5a5d61" fill-opacity="0.69"/><circle cx="474.7" cy="2551.1" r="2.1" fill="#5a5d61" fill-opacity="0.83"/><circle cx="502.7" cy="2600.4" r="2.6" fill="#5a5d61" fill-opacity="0.46"/><circle cx="378.3" cy="2567.6" r="2.4" fill="#5a5d61" fill-opacity="0.83"/><circle cx="419.2" cy="2607.6" r="1.3" fill="#5a5d61" fill-opacity="0.84"/><circle cx="406.9" cy="2558.2" r="1.5" fill="#5a5d61" fill-opacity="0.47"/></g>
<g filter="url(#blur2)"><circle cx="453.4" cy="2605.6" r="7.4" fill="#5a5d61" fill-opacity="0.30"/><circle cx="430.3" cy="2553.8" r="4.2" fill="#5a5d61" fill-opacity="0.23"/><circle cx="450.6" cy="2587.9" r="4.2" fill="#5a5d61" fill-opacity="0.30"/><circle cx="420.2" cy="2599.5" r="8.0" fill="#5a5d61" fill-opacity="0.24"/><circle cx="437.8" cy="2515.6" r="5.0" fill="#5a5d61" fill-opacity="0.40"/><circle cx="487.8" cy="2545.6" r="3.0" fill="#5a5d61" fill-opacity="0.35"/></g>
<circle cx="631.00" cy="2550.60" r="88.20" fill="#cbcccf"/>
<circle cx="631.00" cy="2550.60" r="87.00" fill="url(#dishg)"/>
<circle cx="631.00" cy="2550.60" r="86.00" fill="#000" filter="url(#mottle)"/>
<g filter="url(#blur1)"><circle cx="656.8" cy="2585.6" r="2.5" fill="#5a5d61" fill-opacity="0.53"/><circle cx="602.0" cy="2528.4" r="2.4" fill="#5a5d61" fill-opacity="0.52"/><circle cx="702.3" cy="2549.1" r="1.4" fill="#5a5d61" fill-opacity="0.82"/><circle cx="643.7" cy="2477.3" r="2.4" fill="#5a5d61" fill-opacity="0.76"/></g>
<g filter="url(#blur2)"><circle cx="672.8" cy="2578.0" r="8.0" fill="#5a5d61" fill-opacity="0.22"/><circle cx="588.0" cy="2570.2" r="5.4" fill="#5a5d61" fill-opacity="0.35"/><circle cx="641.0" cy="2505.6" r="6.0" fill="#5a5d61" fill-opacity="0.40"/></g>
<circle cx="256.80" cy="2784.40" r="88.20" fill="#cbcccf"/>
<circle cx="256.80" cy="2784.40" r="87.00" fill="url(#dishg)"/>
<circle cx="256.80" cy="2784.40" r="86.00" fill="#000" filter="url(#mottle)"/>
<g filter="url(#blur1)"><circle cx="273.7" cy="2728.4" r="1.5" fill="#5a5d61" fill-opacity="0.64"/><circle cx="242.5" cy="2734.5" r="1.8" fill="#5a5d61" fill-opacity="0.79"/><circle cx="257.9" cy="2817.6" r="2.2" fill="#5a5d61" fill-opacity="0.56"/><circle cx="210.3" cy="2815.6" r="1.5" fill="#5a5d61" fill-opacity="0.46"/><circle cx="304.0" cy="2807.5" r="1.6" fill="#5a5d61" fill-opacity="0.66"/><circle cx="328.1" cy="2745.9" r="1.5" fill="#5a5d61" fill-opacity="0.62"/><circle cx="199.0" cy="2761.5" r="1.3" fill="#5a5d61" fill-opacity="0.76"/><circle cx="310.1" cy="2762.4" r="1.8" fill="#5a5d61" fill-opacity="0.55"/></g>
<g filter="url(#blur2)"><circle cx="285.1" cy="2727.8" r="4.7" fill="#5a5d61" fill-opacity="0.37"/><circle cx="202.8" cy="2817.2" r="5.7" fill="#5a5d61" fill-opacity="0.23"/><circle cx="225.9" cy="2814.8" r="7.0" fill="#5a5d61" fill-opacity="0.30"/><circle cx="256.6" cy="2847.1" r="6.9" fill="#5a5d61" fill-opacity="0.32"/><circle cx="264.6" cy="2775.4" r="5.7" fill="#5a5d61" fill-opacity="0.35"/><circle cx="212.2" cy="2848.0" r="5.2" fill="#5a5d61" fill-opacity="0.27"/><circle cx="240.6" cy="2793.5" r="5.8" fill="#5a5d61" fill-opacity="0.39"/><circle cx="287.0" cy="2785.1" r="4.0" fill="#5a5d61" fill-opacity="0.42"/><circle cx="233.4" cy="2760.0" r="4.9" fill="#5a5d61" fill-opacity="0.26"/><circle cx="286.8" cy="2749.0" r="6.0" fill="#5a5d61" fill-opacity="0.35"/><circle cx="203.6" cy="2837.4" r="7.6" fill="#5a5d61" fill-opacity="0.31"/><circle cx="225.4" cy="2785.4" r="7.6" fill="#5a5d61" fill-opacity="0.42"/><circle cx="294.4" cy="2767.2" r="5.6" fill="#5a5d61" fill-opacity="0.36"/><circle cx="227.2" cy="2834.7" r="5.4" fill="#5a5d61" fill-opacity="0.34"/><circle cx="251.8" cy="2786.4" r="9.0" fill="#5a5d61" fill-opacity="0.45"/><circle cx="266.8" cy="2784.4" r="7.0" fill="#5a5d61" fill-opacity="0.40"/><circle cx="236.8" cy="2784.4" r="6.0" fill="#5a5d61" fill-opacity="0.35"/><circle cx="266.8" cy="2754.4" r="4.0" fill="#5a5d61" fill-opacity="0.40"/><circle cx="206.8" cy="2749.4" r="5.0" fill="#5a5d61" fill-opacity="0.35"/><circle cx="296.8" cy="2834.4" r="5.0" fill="#5a5d61" fill-opacity="0.35"/></g>
<circle cx="442.80" cy="2784.40" r="88.20" fill="#cbcccf"/>
<circle cx="442.80" cy="2784.40" r="87.00" fill="url(#dishg)"/>
<circle cx="442.80" cy="2784.40" r="86.00" fill="#000" filter="url(#mottle)"/>
<g filter="url(#blur1)"><circle cx="451.2" cy="2757.6" r="2.4" fill="#5a5d61" fill-opacity="0.57"/><circle cx="444.6" cy="2757.2" r="1.8" fill="#5a5d61" fill-opacity="0.84"/><circle cx="373.8" cy="2774.8" r="1.6" fill="#5a5d61" fill-opacity="0.59"/><circle cx="461.6" cy="2770.4" r="2.2" fill="#5a5d61" fill-opacity="0.63"/><circle cx="385.5" cy="2772.9" r="1.8" fill="#5a5d61" fill-opacity="0.77"/><circle cx="453.7" cy="2731.6" r="2.2" fill="#5a5d61" fill-opacity="0.57"/><circle cx="444.9" cy="2735.7" r="1.8" fill="#5a5d61" fill-opacity="0.76"/><circle cx="445.5" cy="2828.3" r="2.3" fill="#5a5d61" fill-opacity="0.68"/></g>
<g filter="url(#blur2)"><circle cx="468.1" cy="2766.5" r="6.5" fill="#5a5d61" fill-opacity="0.38"/><circle cx="419.7" cy="2721.6" r="4.6" fill="#5a5d61" fill-opacity="0.29"/><circle cx="367.9" cy="2766.6" r="5.7" fill="#5a5d61" fill-opacity="0.35"/><circle cx="437.0" cy="2860.1" r="6.6" fill="#5a5d61" fill-opacity="0.28"/><circle cx="508.0" cy="2819.0" r="7.9" fill="#5a5d61" fill-opacity="0.37"/><circle cx="481.9" cy="2829.6" r="5.2" fill="#5a5d61" fill-opacity="0.22"/><circle cx="465.1" cy="2850.9" r="7.8" fill="#5a5d61" fill-opacity="0.32"/><circle cx="433.9" cy="2737.5" r="4.1" fill="#5a5d61" fill-opacity="0.26"/><circle cx="442.8" cy="2719.5" r="4.5" fill="#5a5d61" fill-opacity="0.25"/><circle cx="466.1" cy="2849.9" r="5.0" fill="#5a5d61" fill-opacity="0.29"/><circle cx="463.9" cy="2835.5" r="6.3" fill="#5a5d61" fill-opacity="0.28"/><circle cx="475.0" cy="2833.8" r="4.2" fill="#5a5d61" fill-opacity="0.28"/><circle cx="434.8" cy="2790.4" r="6.0" fill="#5a5d61" fill-opacity="0.50"/><circle cx="422.8" cy="2809.4" r="6.0" fill="#5a5d61" fill-opacity="0.40"/><circle cx="387.8" cy="2774.4" r="6.0" fill="#5a5d61" fill-opacity="0.35"/><circle cx="442.8" cy="2754.4" r="4.0" fill="#5a5d61" fill-opacity="0.40"/><circle cx="462.8" cy="2764.4" r="4.0" fill="#5a5d61" fill-opacity="0.40"/><circle cx="467.8" cy="2744.4" r="4.0" fill="#5a5d61" fill-opacity="0.35"/></g>
<circle cx="631.00" cy="2784.40" r="88.20" fill="#cbcccf"/>
<circle cx="631.00" cy="2784.40" r="87.00" fill="url(#dishg)"/>
<circle cx="631.00" cy="2784.40" r="86.00" fill="#000" filter="url(#mottle)"/>
<g filter="url(#blur1)"><circle cx="637.8" cy="2747.7" r="1.3" fill="#5a5d61" fill-opacity="0.71"/><circle cx="580.5" cy="2742.2" r="1.8" fill="#5a5d61" fill-opacity="0.71"/><circle cx="648.3" cy="2857.0" r="2.6" fill="#5a5d61" fill-opacity="0.71"/><circle cx="637.1" cy="2709.2" r="1.3" fill="#5a5d61" fill-opacity="0.77"/><circle cx="660.9" cy="2830.2" r="2.0" fill="#5a5d61" fill-opacity="0.72"/><circle cx="655.1" cy="2853.2" r="1.4" fill="#5a5d61" fill-opacity="0.65"/><circle cx="597.8" cy="2841.7" r="2.4" fill="#5a5d61" fill-opacity="0.55"/><circle cx="598.7" cy="2831.3" r="1.8" fill="#5a5d61" fill-opacity="0.75"/></g>
<g filter="url(#blur2)"><circle cx="596.4" cy="2788.5" r="4.7" fill="#5a5d61" fill-opacity="0.35"/><circle cx="633.3" cy="2847.5" r="7.8" fill="#5a5d61" fill-opacity="0.32"/><circle cx="708.4" cy="2779.9" r="5.9" fill="#5a5d61" fill-opacity="0.41"/><circle cx="588.1" cy="2741.9" r="6.8" fill="#5a5d61" fill-opacity="0.35"/><circle cx="663.4" cy="2841.5" r="6.0" fill="#5a5d61" fill-opacity="0.30"/><circle cx="583.2" cy="2734.5" r="5.5" fill="#5a5d61" fill-opacity="0.31"/><circle cx="672.7" cy="2805.3" r="6.0" fill="#5a5d61" fill-opacity="0.30"/><circle cx="652.8" cy="2763.9" r="7.2" fill="#5a5d61" fill-opacity="0.35"/><circle cx="586.0" cy="2739.4" r="6.0" fill="#5a5d61" fill-opacity="0.40"/><circle cx="641.0" cy="2769.4" r="5.0" fill="#5a5d61" fill-opacity="0.40"/><circle cx="641.0" cy="2784.4" r="5.0" fill="#5a5d61" fill-opacity="0.35"/><circle cx="606.0" cy="2812.4" r="4.0" fill="#5a5d61" fill-opacity="0.35"/></g>
<text transform="translate(42.55,1152.00) scale(0.9661,1)" font-size="39.56" fill="#333333">DMSO</text>
<text transform="translate(110.93,1347.00) scale(0.9406,1)" font-size="39.56" fill="#333333">B4</text>
<text transform="translate(104.18,1579.50) scale(0.9205,1)" font-size="39.56" fill="#333333">C4</text>
<text transform="translate(109.70,1812.50) scale(1.0110,1)" font-size="39.56" fill="#333333">H9</text>
<text transform="translate(197.88,1462.80) scale(1.0707,1)" font-size="39.56" fill="#333333">25 µM</text>
<text transform="translate(385.31,1462.80) scale(1.0667,1)" font-size="39.56" fill="#333333">50 µM</text>
<text transform="translate(559.43,1462.80) scale(1.0679,1)" font-size="39.56" fill="#333333">100 µM</text>
<text transform="translate(180.45,1691.00) scale(1.0619,1)" font-size="39.56" fill="#333333">12.5 µM</text>
<text transform="translate(384.88,1691.00) scale(1.0707,1)" font-size="39.56" fill="#333333">25 µM</text>
<text transform="translate(571.71,1691.00) scale(1.0667,1)" font-size="39.56" fill="#333333">50 µM</text>
<text transform="translate(197.88,1926.50) scale(1.0707,1)" font-size="39.56" fill="#333333">25 µM</text>
<text transform="translate(385.31,1926.50) scale(1.0667,1)" font-size="39.56" fill="#333333">50 µM</text>
<text transform="translate(559.43,1926.50) scale(1.0679,1)" font-size="39.56" fill="#333333">100 µM</text>
<text transform="translate(42.55,2141.00) scale(0.9661,1)" font-size="39.56" fill="#333333">DMSO</text>
<text transform="translate(110.93,2338.00) scale(0.9406,1)" font-size="39.56" fill="#333333">B4</text>
<text transform="translate(104.18,2563.40) scale(0.9205,1)" font-size="39.56" fill="#333333">C4</text>
<text transform="translate(109.70,2796.40) scale(1.0110,1)" font-size="39.56" fill="#333333">H9</text>
<text transform="translate(197.88,2442.60) scale(1.0707,1)" font-size="39.56" fill="#333333">25 µM</text>
<text transform="translate(385.31,2442.60) scale(1.0667,1)" font-size="39.56" fill="#333333">50 µM</text>
<text transform="translate(559.43,2442.60) scale(1.0679,1)" font-size="39.56" fill="#333333">100 µM</text>
<text transform="translate(180.45,2673.00) scale(1.0619,1)" font-size="39.56" fill="#333333">12.5 µM</text>
<text transform="translate(384.88,2673.00) scale(1.0707,1)" font-size="39.56" fill="#333333">25 µM</text>
<text transform="translate(571.71,2673.00) scale(1.0667,1)" font-size="39.56" fill="#333333">50 µM</text>
<text transform="translate(197.88,2907.00) scale(1.0707,1)" font-size="39.56" fill="#333333">25 µM</text>
<text transform="translate(385.31,2907.00) scale(1.0667,1)" font-size="39.56" fill="#333333">50 µM</text>
<text transform="translate(559.43,2907.00) scale(1.0679,1)" font-size="39.56" fill="#333333">100 µM</text>
<rect x="1156.00" y="1293.80" width="48.00" height="440.60" fill="#4152a6" stroke="#262626" stroke-width="7.0"/>
<rect x="1236.19" y="1399.90" width="48.00" height="334.50" fill="#f9d5c6" stroke="#262626" stroke-width="7.0"/>
<rect x="1316.38" y="1379.50" width="48.00" height="354.90" fill="#f5a88c" stroke="#262626" stroke-width="7.0"/>
<rect x="1396.57" y="1494.80" width="48.00" height="239.60" fill="#ec2c31" stroke="#262626" stroke-width="7.0"/>
<rect x="1476.76" y="1395.00" width="48.00" height="339.40" fill="#dbecd6" stroke="#262626" stroke-width="7.0"/>
<rect x="1556.95" y="1412.70" width="48.00" height="321.70" fill="#b6dcb0" stroke="#262626" stroke-width="7.0"/>
<rect x="1637.14" y="1676.40" width="48.00" height="58.00" fill="#3bb44b" stroke="#262626" stroke-width="7.0"/>
<rect x="1717.33" y="1339.30" width="48.00" height="395.10" fill="#ddd0e7" stroke="#262626" stroke-width="7.0"/>
<rect x="1797.52" y="1352.50" width="48.00" height="381.90" fill="#c3a9d3" stroke="#262626" stroke-width="7.0"/>
<rect x="1877.71" y="1482.40" width="48.00" height="252.00" fill="#8e52a3" stroke="#262626" stroke-width="7.0"/>
<line x1="1260.19" y1="1312.60" x2="1260.19" y2="1479.00" stroke="#262626" stroke-width="5.5" stroke-linecap="butt"/>
<line x1="1246.19" y1="1313.10" x2="1274.19" y2="1313.10" stroke="#262626" stroke-width="6" stroke-linecap="butt"/>
<line x1="1246.19" y1="1478.50" x2="1274.19" y2="1478.50" stroke="#262626" stroke-width="6" stroke-linecap="butt"/>
<line x1="1340.38" y1="1325.80" x2="1340.38" y2="1426.80" stroke="#262626" stroke-width="5.5" stroke-linecap="butt"/>
<line x1="1326.38" y1="1326.30" x2="1354.38" y2="1326.30" stroke="#262626" stroke-width="6" stroke-linecap="butt"/>
<line x1="1326.38" y1="1426.30" x2="1354.38" y2="1426.30" stroke="#262626" stroke-width="6" stroke-linecap="butt"/>
<rect x="1405.57" y="1483.90" width="30" height="8.90" fill="#262626"/>
<line x1="1500.76" y1="1318.80" x2="1500.76" y2="1462.00" stroke="#262626" stroke-width="5.5" stroke-linecap="butt"/>
<line x1="1486.76" y1="1319.30" x2="1514.76" y2="1319.30" stroke="#262626" stroke-width="6" stroke-linecap="butt"/>
<line x1="1486.76" y1="1461.50" x2="1514.76" y2="1461.50" stroke="#262626" stroke-width="6" stroke-linecap="butt"/>
<line x1="1580.95" y1="1367.00" x2="1580.95" y2="1446.10" stroke="#262626" stroke-width="5.5" stroke-linecap="butt"/>
<line x1="1566.95" y1="1367.50" x2="1594.95" y2="1367.50" stroke="#262626" stroke-width="6" stroke-linecap="butt"/>
<line x1="1566.95" y1="1445.60" x2="1594.95" y2="1445.60" stroke="#262626" stroke-width="6" stroke-linecap="butt"/>
<rect x="1646.14" y="1664.70" width="30" height="9.70" fill="#262626"/>
<line x1="1741.33" y1="1260.00" x2="1741.33" y2="1407.30" stroke="#262626" stroke-width="5.5" stroke-linecap="butt"/>
<line x1="1727.33" y1="1260.50" x2="1755.33" y2="1260.50" stroke="#262626" stroke-width="6" stroke-linecap="butt"/>
<line x1="1727.33" y1="1406.80" x2="1755.33" y2="1406.80" stroke="#262626" stroke-width="6" stroke-linecap="butt"/>
<line x1="1821.52" y1="1290.00" x2="1821.52" y2="1406.20" stroke="#262626" stroke-width="5.5" stroke-linecap="butt"/>
<line x1="1807.52" y1="1290.50" x2="1835.52" y2="1290.50" stroke="#262626" stroke-width="6" stroke-linecap="butt"/>
<line x1="1807.52" y1="1405.70" x2="1835.52" y2="1405.70" stroke="#262626" stroke-width="6" stroke-linecap="butt"/>
<line x1="1901.71" y1="1398.00" x2="1901.71" y2="1558.00" stroke="#262626" stroke-width="5.5" stroke-linecap="butt"/>
<line x1="1887.71" y1="1398.50" x2="1915.71" y2="1398.50" stroke="#262626" stroke-width="6" stroke-linecap="butt"/>
<line x1="1887.71" y1="1557.50" x2="1915.71" y2="1557.50" stroke="#262626" stroke-width="6" stroke-linecap="butt"/>
<line x1="1126.30" y1="1176.50" x2="1126.30" y2="1738.40" stroke="#262626" stroke-width="8" stroke-linecap="butt"/>
<line x1="1101.50" y1="1734.40" x2="1966.00" y2="1734.40" stroke="#262626" stroke-width="8" stroke-linecap="butt"/>
<line x1="1101.50" y1="1623.60" x2="1126.30" y2="1623.60" stroke="#262626" stroke-width="8" stroke-linecap="butt"/>
<line x1="1101.50" y1="1512.80" x2="1126.30" y2="1512.80" stroke="#262626" stroke-width="8" stroke-linecap="butt"/>
<line x1="1101.50" y1="1402.00" x2="1126.30" y2="1402.00" stroke="#262626" stroke-width="8" stroke-linecap="butt"/>
<line x1="1101.50" y1="1291.20" x2="1126.30" y2="1291.20" stroke="#262626" stroke-width="8" stroke-linecap="butt"/>
<line x1="1101.50" y1="1180.40" x2="1126.30" y2="1180.40" stroke="#262626" stroke-width="8" stroke-linecap="butt"/>
<line x1="1180.00" y1="1734.40" x2="1180.00" y2="1758.60" stroke="#262626" stroke-width="8" stroke-linecap="butt"/>
<line x1="1260.19" y1="1734.40" x2="1260.19" y2="1758.60" stroke="#262626" stroke-width="8" stroke-linecap="butt"/>
<line x1="1340.38" y1="1734.40" x2="1340.38" y2="1758.60" stroke="#262626" stroke-width="8" stroke-linecap="butt"/>
<line x1="1420.57" y1="1734.40" x2="1420.57" y2="1758.60" stroke="#262626" stroke-width="8" stroke-linecap="butt"/>
<line x1="1500.76" y1="1734.40" x2="1500.76" y2="1758.60" stroke="#262626" stroke-width="8" stroke-linecap="butt"/>
<line x1="1580.95" y1="1734.40" x2="1580.95" y2="1758.60" stroke="#262626" stroke-width="8" stroke-linecap="butt"/>
<line x1="1661.14" y1="1734.40" x2="1661.14" y2="1758.60" stroke="#262626" stroke-width="8" stroke-linecap="butt"/>
<line x1="1741.33" y1="1734.40" x2="1741.33" y2="1758.60" stroke="#262626" stroke-width="8" stroke-linecap="butt"/>
<line x1="1821.52" y1="1734.40" x2="1821.52" y2="1758.60" stroke="#262626" stroke-width="8" stroke-linecap="butt"/>
<line x1="1901.71" y1="1734.40" x2="1901.71" y2="1758.60" stroke="#262626" stroke-width="8" stroke-linecap="butt"/>
<text transform="translate(1042.30,1745.80) scale(0.8894,1)" font-size="42.18" fill="#333333">0%</text>
<text transform="translate(1021.32,1635.00) scale(0.8902,1)" font-size="42.18" fill="#333333">25%</text>
<text transform="translate(1021.71,1524.20) scale(0.8855,1)" font-size="42.18" fill="#333333">50%</text>
<text transform="translate(1021.32,1413.40) scale(0.8902,1)" font-size="42.18" fill="#333333">75%</text>
<text transform="translate(998.01,1302.60) scale(0.9134,1)" font-size="42.18" fill="#333333">100%</text>
<text transform="translate(998.01,1191.80) scale(0.9134,1)" font-size="42.18" fill="#333333">125%</text>
<text transform="translate(984.20,1728.52) rotate(-90) scale(0.9592,1)" font-size="42.18" fill="#333333">Colony Formation (%  Control)</text>
<text transform="translate(1406.20,1154.20) scale(0.9373,1)" font-size="46.55" fill="#333333">MDA-MB-231</text>
<text transform="translate(1237.06,1292.80) scale(1.12,1)" font-size="34.98" letter-spacing="2.31" fill="#333333">ns</text>
<text transform="translate(1329.06,1320.36) scale(1.0034,1)" font-size="44.40" letter-spacing="0.00" fill="#333333" stroke="#333333" stroke-width="2.00" style="font-family:'DejaVu Sans',sans-serif">*</text>
<text transform="translate(1380.56,1480.84) scale(1.0134,1)" font-size="43.96" letter-spacing="6.39" fill="#333333" stroke="#333333" stroke-width="2.00" style="font-family:'DejaVu Sans',sans-serif">***</text>
<text transform="translate(1478.26,1302.70) scale(1.12,1)" font-size="34.98" letter-spacing="2.31" fill="#333333">ns</text>
<text transform="translate(1570.76,1363.63) scale(0.9130,1)" font-size="48.79" letter-spacing="0.00" fill="#333333" stroke="#333333" stroke-width="2.00" style="font-family:'DejaVu Sans',sans-serif">*</text>
<text transform="translate(1621.66,1661.64) scale(1.0134,1)" font-size="43.96" letter-spacing="6.84" fill="#333333" stroke="#333333" stroke-width="2.00" style="font-family:'DejaVu Sans',sans-serif">***</text>
<text transform="translate(1718.86,1243.80) scale(1.12,1)" font-size="34.98" letter-spacing="2.31" fill="#333333">ns</text>
<text transform="translate(1799.06,1272.00) scale(1.12,1)" font-size="34.98" letter-spacing="2.31" fill="#333333">ns</text>
<text transform="translate(1891.11,1392.17) scale(1.0185,1)" font-size="43.74" letter-spacing="0.00" fill="#333333" stroke="#333333" stroke-width="2.00" style="font-family:'DejaVu Sans',sans-serif">*</text>
<text transform="translate(1189.70,1797.30) rotate(-45) scale(0.9442,1)" x="-116.03" font-size="39.30" fill="#333333">DMSO</text>
<text transform="translate(1282.19,1797.30) rotate(-45) scale(1.0015,1)" x="-167.91" font-size="39.30" fill="#333333">25 µM B4</text>
<text transform="translate(1361.78,1797.30) rotate(-45) scale(1.0004,1)" x="-167.91" font-size="39.30" fill="#333333">50 µM B4</text>
<text transform="translate(1446.87,1797.30) rotate(-45) scale(1.0034,1)" x="-189.72" font-size="39.30" fill="#333333">100 µM B4</text>
<text transform="translate(1528.16,1797.30) rotate(-45) scale(0.9843,1)" x="-202.79" font-size="39.30" fill="#333333">12.5 µM C4</text>
<text transform="translate(1603.65,1797.30) rotate(-45) scale(0.9839,1)" x="-170.07" font-size="39.30" fill="#333333">25 µM C4</text>
<text transform="translate(1682.54,1797.30) rotate(-45) scale(0.9780,1)" x="-170.07" font-size="39.30" fill="#333333">50 µM C4</text>
<text transform="translate(1763.93,1797.30) rotate(-45) scale(1.0023,1)" x="-169.38" font-size="39.30" fill="#333333">25 µM H9</text>
<text transform="translate(1844.52,1797.30) rotate(-45) scale(0.9981,1)" x="-169.38" font-size="39.30" fill="#333333">50 µM H9</text>
<text transform="translate(1928.71,1797.30) rotate(-45) scale(1.0093,1)" x="-191.19" font-size="39.30" fill="#333333">100 µM H9</text>
<rect x="1160.00" y="2286.30" width="48.00" height="436.20" fill="#4152a6" stroke="#262626" stroke-width="7.0"/>
<rect x="1239.74" y="2232.30" width="48.00" height="490.20" fill="#f9d5c6" stroke="#262626" stroke-width="7.0"/>
<rect x="1319.48" y="2363.20" width="48.00" height="359.30" fill="#f5a88c" stroke="#262626" stroke-width="7.0"/>
<rect x="1399.22" y="2410.60" width="48.00" height="311.90" fill="#ec2c31" stroke="#262626" stroke-width="7.0"/>
<rect x="1478.96" y="2313.50" width="48.00" height="409.00" fill="#dbecd6" stroke="#262626" stroke-width="7.0"/>
<rect x="1558.70" y="2453.90" width="48.00" height="268.60" fill="#b6dcb0" stroke="#262626" stroke-width="7.0"/>
<rect x="1638.44" y="2644.90" width="48.00" height="77.60" fill="#3bb44b" stroke="#262626" stroke-width="7.0"/>
<rect x="1718.18" y="2285.20" width="48.00" height="437.30" fill="#ddd0e7" stroke="#262626" stroke-width="7.0"/>
<rect x="1797.92" y="2380.10" width="48.00" height="342.40" fill="#c3a9d3" stroke="#262626" stroke-width="7.0"/>
<rect x="1877.66" y="2482.90" width="48.00" height="239.60" fill="#8e52a3" stroke="#262626" stroke-width="7.0"/>
<line x1="1263.74" y1="2215.30" x2="1263.74" y2="2239.80" stroke="#262626" stroke-width="5.5" stroke-linecap="butt"/>
<line x1="1249.74" y1="2215.80" x2="1277.74" y2="2215.80" stroke="#262626" stroke-width="6" stroke-linecap="butt"/>
<line x1="1249.74" y1="2239.30" x2="1277.74" y2="2239.30" stroke="#262626" stroke-width="6" stroke-linecap="butt"/>
<line x1="1343.48" y1="2290.70" x2="1343.48" y2="2426.20" stroke="#262626" stroke-width="5.5" stroke-linecap="butt"/>
<line x1="1329.48" y1="2291.20" x2="1357.48" y2="2291.20" stroke="#262626" stroke-width="6" stroke-linecap="butt"/>
<line x1="1329.48" y1="2425.70" x2="1357.48" y2="2425.70" stroke="#262626" stroke-width="6" stroke-linecap="butt"/>
<line x1="1423.22" y1="2395.80" x2="1423.22" y2="2411.60" stroke="#262626" stroke-width="5.5" stroke-linecap="butt"/>
<line x1="1409.22" y1="2396.30" x2="1437.22" y2="2396.30" stroke="#262626" stroke-width="6" stroke-linecap="butt"/>
<line x1="1502.96" y1="2238.40" x2="1502.96" y2="2378.90" stroke="#262626" stroke-width="5.5" stroke-linecap="butt"/>
<line x1="1488.96" y1="2238.90" x2="1516.96" y2="2238.90" stroke="#262626" stroke-width="6" stroke-linecap="butt"/>
<line x1="1488.96" y1="2378.40" x2="1516.96" y2="2378.40" stroke="#262626" stroke-width="6" stroke-linecap="butt"/>
<line x1="1582.70" y1="2405.20" x2="1582.70" y2="2492.60" stroke="#262626" stroke-width="5.5" stroke-linecap="butt"/>
<line x1="1568.70" y1="2405.70" x2="1596.70" y2="2405.70" stroke="#262626" stroke-width="6" stroke-linecap="butt"/>
<line x1="1568.70" y1="2492.10" x2="1596.70" y2="2492.10" stroke="#262626" stroke-width="6" stroke-linecap="butt"/>
<line x1="1662.44" y1="2618.00" x2="1662.44" y2="2660.20" stroke="#262626" stroke-width="5.5" stroke-linecap="butt"/>
<line x1="1648.44" y1="2618.50" x2="1676.44" y2="2618.50" stroke="#262626" stroke-width="6" stroke-linecap="butt"/>
<line x1="1648.44" y1="2659.70" x2="1676.44" y2="2659.70" stroke="#262626" stroke-width="6" stroke-linecap="butt"/>
<line x1="1742.18" y1="2234.60" x2="1742.18" y2="2326.90" stroke="#262626" stroke-width="5.5" stroke-linecap="butt"/>
<line x1="1728.18" y1="2235.10" x2="1756.18" y2="2235.10" stroke="#262626" stroke-width="6" stroke-linecap="butt"/>
<line x1="1728.18" y1="2326.40" x2="1756.18" y2="2326.40" stroke="#262626" stroke-width="6" stroke-linecap="butt"/>
<line x1="1821.92" y1="2302.40" x2="1821.92" y2="2448.20" stroke="#262626" stroke-width="5.5" stroke-linecap="butt"/>
<line x1="1807.92" y1="2302.90" x2="1835.92" y2="2302.90" stroke="#262626" stroke-width="6" stroke-linecap="butt"/>
<line x1="1807.92" y1="2447.70" x2="1835.92" y2="2447.70" stroke="#262626" stroke-width="6" stroke-linecap="butt"/>
<line x1="1901.66" y1="2424.00" x2="1901.66" y2="2531.00" stroke="#262626" stroke-width="5.5" stroke-linecap="butt"/>
<line x1="1887.66" y1="2424.50" x2="1915.66" y2="2424.50" stroke="#262626" stroke-width="6" stroke-linecap="butt"/>
<line x1="1887.66" y1="2530.50" x2="1915.66" y2="2530.50" stroke="#262626" stroke-width="6" stroke-linecap="butt"/>
<line x1="1131.20" y1="2168.00" x2="1131.20" y2="2726.50" stroke="#262626" stroke-width="8" stroke-linecap="butt"/>
<line x1="1106.30" y1="2722.50" x2="1965.00" y2="2722.50" stroke="#262626" stroke-width="8" stroke-linecap="butt"/>
<line x1="1106.30" y1="2612.40" x2="1131.20" y2="2612.40" stroke="#262626" stroke-width="8" stroke-linecap="butt"/>
<line x1="1106.30" y1="2502.30" x2="1131.20" y2="2502.30" stroke="#262626" stroke-width="8" stroke-linecap="butt"/>
<line x1="1106.30" y1="2392.20" x2="1131.20" y2="2392.20" stroke="#262626" stroke-width="8" stroke-linecap="butt"/>
<line x1="1106.30" y1="2282.10" x2="1131.20" y2="2282.10" stroke="#262626" stroke-width="8" stroke-linecap="butt"/>
<line x1="1106.30" y1="2172.00" x2="1131.20" y2="2172.00" stroke="#262626" stroke-width="8" stroke-linecap="butt"/>
<line x1="1184.00" y1="2722.50" x2="1184.00" y2="2746.80" stroke="#262626" stroke-width="8" stroke-linecap="butt"/>
<line x1="1263.74" y1="2722.50" x2="1263.74" y2="2746.80" stroke="#262626" stroke-width="8" stroke-linecap="butt"/>
<line x1="1343.48" y1="2722.50" x2="1343.48" y2="2746.80" stroke="#262626" stroke-width="8" stroke-linecap="butt"/>
<line x1="1423.22" y1="2722.50" x2="1423.22" y2="2746.80" stroke="#262626" stroke-width="8" stroke-linecap="butt"/>
<line x1="1502.96" y1="2722.50" x2="1502.96" y2="2746.80" stroke="#262626" stroke-width="8" stroke-linecap="butt"/>
<line x1="1582.70" y1="2722.50" x2="1582.70" y2="2746.80" stroke="#262626" stroke-width="8" stroke-linecap="butt"/>
<line x1="1662.44" y1="2722.50" x2="1662.44" y2="2746.80" stroke="#262626" stroke-width="8" stroke-linecap="butt"/>
<line x1="1742.18" y1="2722.50" x2="1742.18" y2="2746.80" stroke="#262626" stroke-width="8" stroke-linecap="butt"/>
<line x1="1821.92" y1="2722.50" x2="1821.92" y2="2746.80" stroke="#262626" stroke-width="8" stroke-linecap="butt"/>
<line x1="1901.66" y1="2722.50" x2="1901.66" y2="2746.80" stroke="#262626" stroke-width="8" stroke-linecap="butt"/>
<text transform="translate(1045.08,2733.70) scale(0.8998,1)" font-size="42.18" fill="#333333">0%</text>
<text transform="translate(1023.70,2623.60) scale(0.9025,1)" font-size="42.18" fill="#333333">25%</text>
<text transform="translate(1024.09,2513.50) scale(0.8978,1)" font-size="42.18" fill="#333333">50%</text>
<text transform="translate(1023.70,2403.40) scale(0.9025,1)" font-size="42.18" fill="#333333">75%</text>
<text transform="translate(1001.51,2293.30) scale(0.9124,1)" font-size="42.18" fill="#333333">100%</text>
<text transform="translate(1001.51,2183.20) scale(0.9124,1)" font-size="42.18" fill="#333333">125%</text>
<text transform="translate(988.00,2714.99) rotate(-90) scale(0.9435,1)" font-size="42.18" fill="#333333">Colony Formation (%  Control)</text>
<text transform="translate(1447.40,2140.70) scale(0.8492,1)" font-size="47.13" fill="#333333">PTXR-231</text>
<text transform="translate(1252.57,2211.83) scale(1.0116,1)" font-size="40.44" letter-spacing="0.00" fill="#333333" stroke="#333333" stroke-width="2.00" style="font-family:'DejaVu Sans',sans-serif">*</text>
<text transform="translate(1323.66,2273.40) scale(0.9905,1)" font-size="34.98" fill="#333333">ns</text>
<text transform="translate(1395.77,2378.94) scale(0.9848,1)" font-size="41.54" letter-spacing="12.54" fill="#333333" stroke="#333333" stroke-width="2.00" style="font-family:'DejaVu Sans',sans-serif">**</text>
<text transform="translate(1482.97,2220.70) scale(1.0073,1)" font-size="37.21" fill="#333333">ns</text>
<text transform="translate(1572.17,2389.20) scale(0.9261,1)" font-size="44.18" letter-spacing="0.00" fill="#333333" stroke="#333333" stroke-width="2.00" style="font-family:'DejaVu Sans',sans-serif">*</text>
<text transform="translate(1635.67,2602.00) scale(0.9261,1)" font-size="44.18" letter-spacing="11.28" fill="#333333" stroke="#333333" stroke-width="2.00" style="font-family:'DejaVu Sans',sans-serif">**</text>
<text transform="translate(1722.20,2217.70) scale(0.9242,1)" font-size="38.51" fill="#333333">ns</text>
<text transform="translate(1802.50,2285.50) scale(0.9197,1)" font-size="38.70" fill="#333333">ns</text>
<text transform="translate(1891.42,2419.24) scale(0.9307,1)" font-size="43.96" letter-spacing="0.00" fill="#333333" stroke="#333333" stroke-width="2.00" style="font-family:'DejaVu Sans',sans-serif">*</text>
<text transform="translate(1193.20,2777.00) rotate(-45) scale(0.9442,1)" x="-116.03" font-size="39.30" fill="#333333">DMSO</text>
<text transform="translate(1284.04,2777.00) rotate(-45) scale(1.0015,1)" x="-167.91" font-size="39.30" fill="#333333">25 µM B4</text>
<text transform="translate(1363.38,2777.00) rotate(-45) scale(1.0004,1)" x="-167.91" font-size="39.30" fill="#333333">50 µM B4</text>
<text transform="translate(1448.22,2777.00) rotate(-45) scale(1.0034,1)" x="-189.72" font-size="39.30" fill="#333333">100 µM B4</text>
<text transform="translate(1528.96,2777.00) rotate(-45) scale(0.9843,1)" x="-202.79" font-size="39.30" fill="#333333">12.5 µM C4</text>
<text transform="translate(1603.90,2777.00) rotate(-45) scale(0.9839,1)" x="-170.07" font-size="39.30" fill="#333333">25 µM C4</text>
<text transform="translate(1682.44,2777.00) rotate(-45) scale(0.9780,1)" x="-170.07" font-size="39.30" fill="#333333">50 µM C4</text>
<text transform="translate(1763.38,2777.00) rotate(-45) scale(1.0023,1)" x="-169.38" font-size="39.30" fill="#333333">25 µM H9</text>
<text transform="translate(1843.52,2777.00) rotate(-45) scale(0.9981,1)" x="-169.38" font-size="39.30" fill="#333333">50 µM H9</text>
<text transform="translate(1927.26,2777.00) rotate(-45) scale(1.0093,1)" x="-191.19" font-size="39.30" fill="#333333">100 µM H9</text>
</svg>
</body></html>
